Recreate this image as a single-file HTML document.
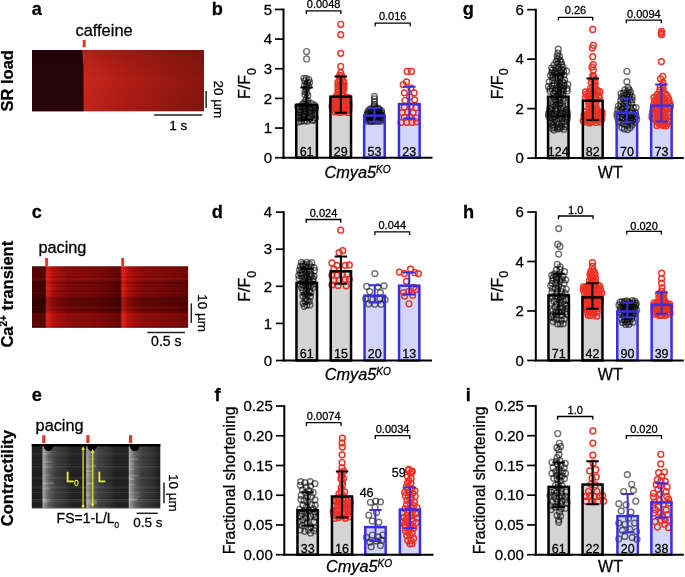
<!DOCTYPE html>
<html><head><meta charset="utf-8"><title>Figure</title>
<style>
html,body{margin:0;padding:0;background:#fff;}
body{width:685px;height:577px;overflow:hidden;}
svg{display:block;}
text{font-family:"Liberation Sans", sans-serif;fill:#000;stroke:#000;stroke-width:0.28px;}
</style></head><body>
<svg width="685" height="577" viewBox="0 0 685 577">
<rect width="685" height="577" fill="#fff"/>
<defs>
<linearGradient id="ga" x1="0" x2="1" y1="0" y2="0">
<stop offset="0" stop-color="#b01b15"/><stop offset="0.29" stop-color="#b01b15"/><stop offset="0.30" stop-color="#cb261b"/><stop offset="0.55" stop-color="#b01c15"/><stop offset="1" stop-color="#8a150f"/>
</linearGradient>
<linearGradient id="gaV" x1="0" x2="0" y1="0" y2="1">
<stop offset="0" stop-color="#000" stop-opacity="0.12"/><stop offset="0.5" stop-color="#000" stop-opacity="0"/><stop offset="1" stop-color="#300" stop-opacity="0.08"/>
</linearGradient>
<linearGradient id="gc" gradientUnits="userSpaceOnUse" x1="32" x2="188.1" y1="0" y2="0">
<stop offset="0" stop-color="#4c0405"/><stop offset="0.084" stop-color="#460304"/><stop offset="0.094" stop-color="#e22418"/>
<stop offset="0.107" stop-color="#da1e14"/><stop offset="0.1294" stop-color="#b6130f"/><stop offset="0.161" stop-color="#a10e0d"/><stop offset="0.225" stop-color="#840a0a"/>
<stop offset="0.379" stop-color="#790809"/><stop offset="0.5" stop-color="#680608"/><stop offset="0.566" stop-color="#540406"/><stop offset="0.577" stop-color="#e22418"/>
<stop offset="0.590" stop-color="#da1e14"/><stop offset="0.612" stop-color="#b6130f"/><stop offset="0.644" stop-color="#a10e0d"/><stop offset="0.708" stop-color="#840a0a"/>
<stop offset="0.863" stop-color="#750808"/><stop offset="1" stop-color="#660608"/>
</linearGradient>
<linearGradient id="gepulse" gradientUnits="objectBoundingBox" x1="0" x2="1" y1="0" y2="0">
<stop offset="0" stop-color="#fff" stop-opacity="0.3"/><stop offset="0.03" stop-color="#fff" stop-opacity="0.58"/><stop offset="0.1" stop-color="#fff" stop-opacity="0.46"/><stop offset="0.22" stop-color="#fff" stop-opacity="0.27"/><stop offset="0.45" stop-color="#fff" stop-opacity="0.13"/><stop offset="0.8" stop-color="#fff" stop-opacity="0.06"/><stop offset="1" stop-color="#fff" stop-opacity="0"/>
</linearGradient>
</defs>

<text x="31.8" y="14.6" font-size="18.2" font-weight="bold">a</text>
<text x="211.8" y="14.6" font-size="18.2" font-weight="bold">b</text>
<text x="462.8" y="14.6" font-size="18.2" font-weight="bold">g</text>
<text x="31.8" y="217.9" font-size="18.2" font-weight="bold">c</text>
<text x="211.8" y="217.9" font-size="18.2" font-weight="bold">d</text>
<text x="463" y="217.9" font-size="18.2" font-weight="bold">h</text>
<text x="31.8" y="400.6" font-size="18.2" font-weight="bold">e</text>
<text x="214.6" y="400.6" font-size="18.2" font-weight="bold">f</text>
<text x="465.8" y="400.6" font-size="18.2" font-weight="bold">i</text>
<text transform="translate(13.2 80.8) rotate(-90)" font-size="16.5" font-weight="bold" text-anchor="middle">SR load</text>
<text transform="translate(13.2 294.2) rotate(-90)" font-size="16.5" font-weight="bold" text-anchor="middle">Ca<tspan font-size="10" dy="-6.2">2+</tspan><tspan dy="6.2"> transient</tspan></text>
<text transform="translate(13.2 478) rotate(-90)" font-size="16.5" font-weight="bold" text-anchor="middle">Contractility</text>
<g>
<rect x="32" y="50" width="172" height="61.3" fill="url(#ga)"/>
<path d="M32 50H81.8C82.3 56 83.5 62 83.5 68V111.3H32Z" fill="#27040a"/>
<rect x="32" y="50" width="172" height="61.3" fill="url(#gaV)"/>
</g>
<rect x="82.7" y="40" width="3" height="7.2" fill="#ee3124"/>
<text x="75.5" y="36.1" font-size="16.4">caffeine</text>
<path d="M154.2 115H202.3" stroke="#222" stroke-width="1.7"/>
<text x="178.2" y="130" font-size="13.5" text-anchor="middle">1 s</text>
<path d="M206.1 90.9V107.9" stroke="#222" stroke-width="1.5"/>
<text transform="translate(213.5 99.4) rotate(90)" font-size="13.5" text-anchor="middle">20 µm</text>
<g>
<rect x="32" y="266.3" width="156.1" height="61.5" fill="url(#gc)"/>
<rect x="32" y="266.3" width="156.1" height="2" fill="#000" fill-opacity="0.12"/>
<rect x="32" y="268.5" width="156.1" height="13" fill="#ff3020" fill-opacity="0.08"/>
<rect x="32" y="282.2" width="156.1" height="1.3" fill="#000" fill-opacity="0.15"/>
<rect x="32" y="290" width="156.1" height="6" fill="#000" fill-opacity="0.06"/>
<rect x="32" y="296.5" width="156.1" height="15" fill="#000" fill-opacity="0.2"/>
<rect x="32" y="313" width="156.1" height="13" fill="#ff3020" fill-opacity="0.08"/>
<rect x="32" y="326" width="156.1" height="1.8" fill="#000" fill-opacity="0.12"/>
<rect x="32" y="266.3" width="156.1" height="1.1" fill="#ff3020" fill-opacity="0.08"/>
<rect x="32" y="267.4" width="156.1" height="1.35" fill="#ff3020" fill-opacity="0.08"/>
<rect x="32" y="268.75" width="156.1" height="0.62" fill="#ff3020" fill-opacity="0.05"/>
<rect x="32" y="269.38" width="156.1" height="1.12" fill="#000" fill-opacity="0.1"/>
<rect x="32" y="270.49" width="156.1" height="0.98" fill="#000" fill-opacity="0.03"/>
<rect x="32" y="271.47" width="156.1" height="1.06" fill="#000" fill-opacity="0"/>
<rect x="32" y="272.53" width="156.1" height="0.82" fill="#ff3020" fill-opacity="0.1"/>
<rect x="32" y="273.35" width="156.1" height="0.73" fill="#000" fill-opacity="0.09"/>
<rect x="32" y="274.08" width="156.1" height="1.09" fill="#000" fill-opacity="0.01"/>
<rect x="32" y="275.17" width="156.1" height="1.3" fill="#000" fill-opacity="0.02"/>
<rect x="32" y="276.47" width="156.1" height="1.39" fill="#000" fill-opacity="0.1"/>
<rect x="32" y="277.86" width="156.1" height="1.37" fill="#ff3020" fill-opacity="0.06"/>
<rect x="32" y="279.23" width="156.1" height="0.76" fill="#ff3020" fill-opacity="0.1"/>
<rect x="32" y="279.99" width="156.1" height="1.37" fill="#000" fill-opacity="0.1"/>
<rect x="32" y="281.36" width="156.1" height="0.89" fill="#000" fill-opacity="0.02"/>
<rect x="32" y="282.25" width="156.1" height="0.65" fill="#000" fill-opacity="0.03"/>
<rect x="32" y="282.9" width="156.1" height="0.6" fill="#000" fill-opacity="0.07"/>
<rect x="32" y="283.51" width="156.1" height="0.85" fill="#000" fill-opacity="0.09"/>
<rect x="32" y="284.36" width="156.1" height="0.85" fill="#ff3020" fill-opacity="0.05"/>
<rect x="32" y="285.21" width="156.1" height="0.65" fill="#000" fill-opacity="0.11"/>
<rect x="32" y="285.85" width="156.1" height="1.2" fill="#000" fill-opacity="0.09"/>
<rect x="32" y="287.05" width="156.1" height="1.23" fill="#000" fill-opacity="0.04"/>
<rect x="32" y="288.28" width="156.1" height="0.61" fill="#000" fill-opacity="0.01"/>
<rect x="32" y="288.89" width="156.1" height="1.36" fill="#ff3020" fill-opacity="0.02"/>
<rect x="32" y="290.26" width="156.1" height="1.34" fill="#000" fill-opacity="0.1"/>
<rect x="32" y="291.6" width="156.1" height="0.88" fill="#ff3020" fill-opacity="0.06"/>
<rect x="32" y="292.48" width="156.1" height="0.69" fill="#ff3020" fill-opacity="0.08"/>
<rect x="32" y="293.17" width="156.1" height="1.29" fill="#ff3020" fill-opacity="0"/>
<rect x="32" y="294.46" width="156.1" height="0.67" fill="#000" fill-opacity="0.04"/>
<rect x="32" y="295.13" width="156.1" height="1.33" fill="#ff3020" fill-opacity="0.04"/>
<rect x="32" y="296.46" width="156.1" height="1.04" fill="#000" fill-opacity="0.03"/>
<rect x="32" y="297.5" width="156.1" height="0.74" fill="#000" fill-opacity="0.01"/>
<rect x="32" y="298.24" width="156.1" height="1.15" fill="#000" fill-opacity="0.11"/>
<rect x="32" y="299.39" width="156.1" height="0.64" fill="#000" fill-opacity="0.11"/>
<rect x="32" y="300.03" width="156.1" height="0.92" fill="#000" fill-opacity="0.03"/>
<rect x="32" y="300.96" width="156.1" height="1.26" fill="#000" fill-opacity="0.05"/>
<rect x="32" y="302.22" width="156.1" height="0.64" fill="#000" fill-opacity="0.1"/>
<rect x="32" y="302.86" width="156.1" height="0.99" fill="#000" fill-opacity="0.09"/>
<rect x="32" y="303.86" width="156.1" height="1.19" fill="#000" fill-opacity="0.1"/>
<rect x="32" y="305.04" width="156.1" height="1.23" fill="#000" fill-opacity="0.01"/>
<rect x="32" y="306.27" width="156.1" height="0.72" fill="#000" fill-opacity="0.09"/>
<rect x="32" y="306.99" width="156.1" height="0.96" fill="#ff3020" fill-opacity="0.11"/>
<rect x="32" y="307.96" width="156.1" height="1.38" fill="#000" fill-opacity="0.05"/>
<rect x="32" y="309.34" width="156.1" height="1.18" fill="#000" fill-opacity="0.05"/>
<rect x="32" y="310.52" width="156.1" height="0.92" fill="#000" fill-opacity="0.02"/>
<rect x="32" y="311.44" width="156.1" height="1.39" fill="#000" fill-opacity="0.11"/>
<rect x="32" y="312.83" width="156.1" height="1" fill="#000" fill-opacity="0.04"/>
<rect x="32" y="313.83" width="156.1" height="0.82" fill="#ff3020" fill-opacity="0.09"/>
<rect x="32" y="314.65" width="156.1" height="0.89" fill="#ff3020" fill-opacity="0.09"/>
<rect x="32" y="315.54" width="156.1" height="1.16" fill="#ff3020" fill-opacity="0.07"/>
<rect x="32" y="316.7" width="156.1" height="0.89" fill="#000" fill-opacity="0.08"/>
<rect x="32" y="317.59" width="156.1" height="0.99" fill="#ff3020" fill-opacity="0.08"/>
<rect x="32" y="318.57" width="156.1" height="0.84" fill="#000" fill-opacity="0.1"/>
<rect x="32" y="319.41" width="156.1" height="1.06" fill="#000" fill-opacity="0"/>
<rect x="32" y="320.47" width="156.1" height="0.8" fill="#000" fill-opacity="0.07"/>
<rect x="32" y="321.27" width="156.1" height="1.25" fill="#ff3020" fill-opacity="0.07"/>
<rect x="32" y="322.53" width="156.1" height="0.88" fill="#ff3020" fill-opacity="0.07"/>
<rect x="32" y="323.41" width="156.1" height="1.26" fill="#ff3020" fill-opacity="0.04"/>
<rect x="32" y="324.67" width="156.1" height="1.3" fill="#ff3020" fill-opacity="0.08"/>
<rect x="32" y="325.97" width="156.1" height="1.37" fill="#000" fill-opacity="0.06"/>
<rect x="32" y="327.33" width="156.1" height="0.47" fill="#ff3020" fill-opacity="0.09"/>
</g>
<rect x="45.2" y="258" width="2.9" height="8.3" fill="#ee3124"/>
<rect x="121.2" y="258" width="2.9" height="8.3" fill="#ee3124"/>
<text x="38.4" y="252.6" font-size="16.3">pacing</text>
<path d="M147.3 332.4H185" stroke="#222" stroke-width="1.5"/>
<text x="166.3" y="345.5" font-size="14" text-anchor="middle">0.5 s</text>
<path d="M191.3 303.4V322.9" stroke="#222" stroke-width="1.5"/>
<text transform="translate(197.9 313.2) rotate(90)" font-size="13.5" text-anchor="middle">10 µm</text>
<g>
<rect x="31.8" y="444" width="128.5" height="64.4" fill="#222"/>
<rect x="31.8" y="444" width="10.4" height="64.4" fill="#000" fill-opacity="0.08"/>
<rect x="31.8" y="446" width="128.5" height="1.06" fill="#000" fill-opacity="0.03"/>
<rect x="31.8" y="447.06" width="128.5" height="1.47" fill="#fff" fill-opacity="0"/>
<rect x="31.8" y="448.53" width="128.5" height="1.5" fill="#fff" fill-opacity="0.01"/>
<rect x="31.8" y="450.03" width="128.5" height="1.22" fill="#000" fill-opacity="0"/>
<rect x="31.8" y="451.24" width="128.5" height="1.3" fill="#fff" fill-opacity="0.04"/>
<rect x="31.8" y="452.55" width="128.5" height="0.76" fill="#000" fill-opacity="0.02"/>
<rect x="31.8" y="453.31" width="128.5" height="1.11" fill="#fff" fill-opacity="0.08"/>
<rect x="31.8" y="454.41" width="128.5" height="1.37" fill="#fff" fill-opacity="0.03"/>
<rect x="31.8" y="455.79" width="128.5" height="0.7" fill="#fff" fill-opacity="0.03"/>
<rect x="31.8" y="456.49" width="128.5" height="1.33" fill="#000" fill-opacity="0.04"/>
<rect x="31.8" y="457.81" width="128.5" height="0.87" fill="#000" fill-opacity="0.02"/>
<rect x="31.8" y="458.68" width="128.5" height="1.41" fill="#fff" fill-opacity="0.02"/>
<rect x="31.8" y="460.09" width="128.5" height="1.48" fill="#000" fill-opacity="0"/>
<rect x="31.8" y="461.57" width="128.5" height="1.09" fill="#000" fill-opacity="0"/>
<rect x="31.8" y="462.66" width="128.5" height="1.51" fill="#fff" fill-opacity="0.01"/>
<rect x="31.8" y="464.17" width="128.5" height="0.72" fill="#fff" fill-opacity="0.05"/>
<rect x="31.8" y="464.89" width="128.5" height="0.8" fill="#000" fill-opacity="0"/>
<rect x="31.8" y="465.69" width="128.5" height="1.14" fill="#000" fill-opacity="0"/>
<rect x="31.8" y="466.83" width="128.5" height="1.1" fill="#000" fill-opacity="0.08"/>
<rect x="31.8" y="467.93" width="128.5" height="1" fill="#000" fill-opacity="0.06"/>
<rect x="31.8" y="468.93" width="128.5" height="1.18" fill="#fff" fill-opacity="0.02"/>
<rect x="31.8" y="470.11" width="128.5" height="1.56" fill="#fff" fill-opacity="0"/>
<rect x="31.8" y="471.66" width="128.5" height="1.21" fill="#000" fill-opacity="0.01"/>
<rect x="31.8" y="472.87" width="128.5" height="1.59" fill="#000" fill-opacity="0.09"/>
<rect x="31.8" y="474.47" width="128.5" height="1.31" fill="#000" fill-opacity="0.09"/>
<rect x="31.8" y="475.77" width="128.5" height="1.21" fill="#000" fill-opacity="0"/>
<rect x="31.8" y="476.98" width="128.5" height="1.27" fill="#fff" fill-opacity="0.05"/>
<rect x="31.8" y="478.26" width="128.5" height="0.69" fill="#fff" fill-opacity="0.03"/>
<rect x="31.8" y="478.94" width="128.5" height="1.18" fill="#000" fill-opacity="0.04"/>
<rect x="31.8" y="480.13" width="128.5" height="1.59" fill="#000" fill-opacity="0.05"/>
<rect x="31.8" y="481.71" width="128.5" height="1.4" fill="#000" fill-opacity="0.03"/>
<rect x="31.8" y="483.11" width="128.5" height="0.81" fill="#000" fill-opacity="0.04"/>
<rect x="31.8" y="483.93" width="128.5" height="0.69" fill="#000" fill-opacity="0.06"/>
<rect x="31.8" y="484.61" width="128.5" height="1.38" fill="#fff" fill-opacity="0"/>
<rect x="31.8" y="486" width="128.5" height="1.41" fill="#fff" fill-opacity="0.04"/>
<rect x="31.8" y="487.41" width="128.5" height="0.85" fill="#000" fill-opacity="0.07"/>
<rect x="31.8" y="488.25" width="128.5" height="0.83" fill="#000" fill-opacity="0.09"/>
<rect x="31.8" y="489.09" width="128.5" height="0.97" fill="#000" fill-opacity="0.08"/>
<rect x="31.8" y="490.06" width="128.5" height="1.27" fill="#fff" fill-opacity="0.02"/>
<rect x="31.8" y="491.33" width="128.5" height="0.86" fill="#fff" fill-opacity="0"/>
<rect x="31.8" y="492.18" width="128.5" height="0.77" fill="#fff" fill-opacity="0.09"/>
<rect x="31.8" y="492.96" width="128.5" height="1.21" fill="#000" fill-opacity="0"/>
<rect x="31.8" y="494.16" width="128.5" height="0.81" fill="#fff" fill-opacity="0.03"/>
<rect x="31.8" y="494.97" width="128.5" height="1.57" fill="#000" fill-opacity="0.03"/>
<rect x="31.8" y="496.54" width="128.5" height="1.16" fill="#000" fill-opacity="0.01"/>
<rect x="31.8" y="497.7" width="128.5" height="1.16" fill="#000" fill-opacity="0.06"/>
<rect x="31.8" y="498.86" width="128.5" height="1.05" fill="#fff" fill-opacity="0.06"/>
<rect x="31.8" y="499.91" width="128.5" height="0.98" fill="#000" fill-opacity="0.08"/>
<rect x="31.8" y="500.89" width="128.5" height="1.32" fill="#fff" fill-opacity="0.07"/>
<rect x="31.8" y="502.21" width="128.5" height="1.09" fill="#000" fill-opacity="0.01"/>
<rect x="31.8" y="503.3" width="128.5" height="1.13" fill="#fff" fill-opacity="0.02"/>
<rect x="31.8" y="504.43" width="128.5" height="0.68" fill="#000" fill-opacity="0.07"/>
<rect x="31.8" y="505.11" width="128.5" height="0.61" fill="#000" fill-opacity="0.02"/>
<rect x="31.8" y="505.73" width="128.5" height="1.16" fill="#000" fill-opacity="0.03"/>
<rect x="31.8" y="506.89" width="128.5" height="1.08" fill="#fff" fill-opacity="0.09"/>
<rect x="31.8" y="507.97" width="128.5" height="0.43" fill="#fff" fill-opacity="0"/>
<rect x="31.8" y="466.5" width="128.5" height="0.9" fill="#fff" fill-opacity="0.13"/>
<rect x="31.8" y="487.5" width="128.5" height="0.9" fill="#fff" fill-opacity="0.13"/>
<rect x="31.8" y="499.5" width="128.5" height="0.9" fill="#fff" fill-opacity="0.13"/>
<rect x="42.2" y="446" width="30" height="62.4" fill="url(#gepulse)"/>
<rect x="42.7" y="499.45" width="7.81" height="1.84" fill="#fff" fill-opacity="0.13"/>
<rect x="42.7" y="500.66" width="4.46" height="2.03" fill="#fff" fill-opacity="0.13"/>
<rect x="42.7" y="464.72" width="9.07" height="2.15" fill="#fff" fill-opacity="0.07"/>
<rect x="42.7" y="488.27" width="7.17" height="1.78" fill="#fff" fill-opacity="0.15"/>
<rect x="42.7" y="450.12" width="8.22" height="1.6" fill="#fff" fill-opacity="0.18"/>
<rect x="42.7" y="460.64" width="9.76" height="2.17" fill="#fff" fill-opacity="0.14"/>
<rect x="42.7" y="498.68" width="4.25" height="1.96" fill="#fff" fill-opacity="0.14"/>
<rect x="42.7" y="487.01" width="6.85" height="1.11" fill="#fff" fill-opacity="0.08"/>
<rect x="42.7" y="482.88" width="5.27" height="1.1" fill="#fff" fill-opacity="0.1"/>
<rect x="42.7" y="474.74" width="7.75" height="1.04" fill="#fff" fill-opacity="0.17"/>
<rect x="42.7" y="466.7" width="9.48" height="1.01" fill="#fff" fill-opacity="0.19"/>
<rect x="42.7" y="481.82" width="10.83" height="2.58" fill="#fff" fill-opacity="0.17"/>
<rect x="42.7" y="453.27" width="6.44" height="1.37" fill="#fff" fill-opacity="0.17"/>
<rect x="42.7" y="458.34" width="5.55" height="1.18" fill="#fff" fill-opacity="0.07"/>
<rect x="85.9" y="446" width="30" height="62.4" fill="url(#gepulse)"/>
<rect x="86.4" y="502.35" width="10.83" height="1.6" fill="#fff" fill-opacity="0.16"/>
<rect x="86.4" y="474.58" width="7.65" height="1.59" fill="#fff" fill-opacity="0.15"/>
<rect x="86.4" y="460.93" width="5.79" height="1.83" fill="#fff" fill-opacity="0.08"/>
<rect x="86.4" y="472.92" width="10.61" height="1.04" fill="#fff" fill-opacity="0.07"/>
<rect x="86.4" y="494.2" width="4.4" height="1.4" fill="#fff" fill-opacity="0.18"/>
<rect x="86.4" y="482.71" width="5.54" height="1.09" fill="#fff" fill-opacity="0.09"/>
<rect x="86.4" y="464.71" width="9.6" height="2.56" fill="#fff" fill-opacity="0.17"/>
<rect x="86.4" y="500.2" width="10.51" height="2.4" fill="#fff" fill-opacity="0.19"/>
<rect x="86.4" y="504.08" width="4.66" height="1.51" fill="#fff" fill-opacity="0.09"/>
<rect x="86.4" y="482.65" width="7.44" height="1.56" fill="#fff" fill-opacity="0.18"/>
<rect x="86.4" y="470.55" width="5.46" height="1.44" fill="#fff" fill-opacity="0.12"/>
<rect x="86.4" y="483.02" width="7.98" height="1.7" fill="#fff" fill-opacity="0.08"/>
<rect x="86.4" y="470.73" width="6.28" height="1.27" fill="#fff" fill-opacity="0.13"/>
<rect x="86.4" y="458.13" width="8.98" height="2.05" fill="#fff" fill-opacity="0.07"/>
<rect x="128.5" y="446" width="30" height="62.4" fill="url(#gepulse)"/>
<rect x="129.0" y="483.9" width="6.36" height="1.72" fill="#fff" fill-opacity="0.14"/>
<rect x="129.0" y="491.93" width="10.19" height="2.17" fill="#fff" fill-opacity="0.08"/>
<rect x="129.0" y="478.97" width="6.35" height="1.03" fill="#fff" fill-opacity="0.13"/>
<rect x="129.0" y="474.77" width="10.07" height="1.52" fill="#fff" fill-opacity="0.18"/>
<rect x="129.0" y="477.33" width="4.69" height="2.15" fill="#fff" fill-opacity="0.09"/>
<rect x="129.0" y="478.48" width="4.5" height="1.02" fill="#fff" fill-opacity="0.19"/>
<rect x="129.0" y="449.48" width="5.04" height="1.26" fill="#fff" fill-opacity="0.06"/>
<rect x="129.0" y="495.62" width="10.97" height="2.04" fill="#fff" fill-opacity="0.11"/>
<rect x="129.0" y="499.42" width="7.54" height="1.22" fill="#fff" fill-opacity="0.15"/>
<rect x="129.0" y="468.18" width="5.89" height="1.51" fill="#fff" fill-opacity="0.11"/>
<rect x="129.0" y="457.76" width="8.29" height="2.39" fill="#fff" fill-opacity="0.14"/>
<rect x="129.0" y="447.56" width="8.79" height="1.03" fill="#fff" fill-opacity="0.12"/>
<rect x="129.0" y="498.08" width="8.74" height="2.45" fill="#fff" fill-opacity="0.16"/>
<rect x="129.0" y="463.1" width="5.01" height="1.72" fill="#fff" fill-opacity="0.15"/>
<rect x="31.8" y="444" width="128.5" height="2.4" fill="#000"/>
<path d="M43.7 446 h9.4 c0 2.9 -2.1 5 -4.7 5 s-4.7 -2.1 -4.7 -5z" fill="#000"/>
<path d="M87.4 446 h9.4 c0 2.9 -2.1 5 -4.7 5 s-4.7 -2.1 -4.7 -5z" fill="#000"/>
<path d="M130 446 h9.4 c0 2.9 -2.1 5 -4.7 5 s-4.7 -2.1 -4.7 -5z" fill="#000"/>
</g>
<rect x="42.2" y="435.2" width="3.2" height="7.8" fill="#ee3124"/>
<rect x="86.3" y="435.2" width="3.2" height="7.8" fill="#ee3124"/>
<rect x="129" y="435.2" width="3.2" height="7.8" fill="#ee3124"/>
<text x="35.6" y="430.9" font-size="16.3">pacing</text>
<path d="M83.1 447.8V507.2M81.9 449.8L83.1 447.5L84.3 449.8M81.9 505.2L83.1 507.5L84.3 505.2" stroke="#e4e640" stroke-width="1.25" fill="none"/>
<path d="M92.7 450.6V505.7M91.5 452.6L92.7 450.3L93.9 452.6M91.5 503.7L92.7 506L93.9 503.7" stroke="#e4e640" stroke-width="1.25" fill="none"/>
<text x="65.8" y="482" font-size="14.5" style="fill:#e4e640;stroke:#e4e640">L<tspan font-size="8.5" dy="3.8">0</tspan></text>
<text x="97.4" y="482" font-size="14.5" style="fill:#e4e640;stroke:#e4e640">L</text>
<text x="56.6" y="523.4" font-size="14">FS=1-L/L<tspan font-size="8.2" dy="4.2">0</tspan></text>
<path d="M136.6 513.3H157.8" stroke="#222" stroke-width="1.5"/>
<text x="147.8" y="526.6" font-size="13.5" text-anchor="middle">0.5 s</text>
<path d="M164 482.6V503.3" stroke="#222" stroke-width="1.5"/>
<text transform="translate(169.3 492.8) rotate(90)" font-size="13.5" text-anchor="middle">10 µm</text>
<rect x="295.9" y="103.74" width="21.4" height="53.96" fill="#d4d4d4"/>
<rect x="330.1" y="95.43" width="21.3" height="62.27" fill="#d4d4d4"/>
<rect x="363.8" y="114.41" width="21.3" height="43.29" fill="#d3d6f9"/>
<rect x="398.6" y="102.85" width="21.4" height="54.85" fill="#d3d6f9"/>
<g fill="none" stroke="#000" stroke-width="1.45" stroke-opacity="0.55">
<circle cx="311.3" cy="116.48" r="2.9"/>
<circle cx="305.7" cy="111.15" r="2.9"/>
<circle cx="307.3" cy="121.07" r="2.9"/>
<circle cx="304.84" cy="80.93" r="2.9"/>
<circle cx="302.73" cy="103.77" r="2.9"/>
<circle cx="312.61" cy="109.61" r="2.9"/>
<circle cx="306.92" cy="92.8" r="2.9"/>
<circle cx="311.53" cy="103.59" r="2.9"/>
<circle cx="301.2" cy="121.18" r="2.9"/>
<circle cx="308.55" cy="86.35" r="2.9"/>
<circle cx="299.21" cy="112.05" r="2.9"/>
<circle cx="297.72" cy="106.65" r="2.9"/>
<circle cx="306.07" cy="99.35" r="2.9"/>
<circle cx="299.03" cy="117.6" r="2.9"/>
<circle cx="304.59" cy="117.16" r="2.9"/>
<circle cx="304.42" cy="85.57" r="2.9"/>
<circle cx="314.83" cy="113.74" r="2.9"/>
<circle cx="302.19" cy="108.59" r="2.9"/>
<circle cx="309.34" cy="112.81" r="2.9"/>
<circle cx="312.23" cy="120.14" r="2.9"/>
<circle cx="305.57" cy="106.64" r="2.9"/>
<circle cx="315.39" cy="117.79" r="2.9"/>
<circle cx="307.89" cy="103.38" r="2.9"/>
<circle cx="309.07" cy="109.5" r="2.9"/>
<circle cx="307.6" cy="82.56" r="2.9"/>
<circle cx="301.31" cy="115.29" r="2.9"/>
<circle cx="308.74" cy="79.68" r="2.9"/>
<circle cx="306.05" cy="89.36" r="2.9"/>
<circle cx="304.37" cy="120.91" r="2.9"/>
<circle cx="304.99" cy="94.85" r="2.9"/>
<circle cx="315.46" cy="107.09" r="2.9"/>
<circle cx="301.07" cy="106.06" r="2.9"/>
<circle cx="298.4" cy="114.97" r="2.9"/>
<circle cx="298.58" cy="121.98" r="2.9"/>
<circle cx="304.67" cy="113.86" r="2.9"/>
<circle cx="307.61" cy="117.14" r="2.9"/>
<circle cx="307.8" cy="95.51" r="2.9"/>
<circle cx="311.99" cy="107.09" r="2.9"/>
<circle cx="303.89" cy="78.27" r="2.9"/>
<circle cx="305.51" cy="104.23" r="2.9"/>
<circle cx="315.23" cy="110.32" r="2.9"/>
<circle cx="298.87" cy="109.46" r="2.9"/>
<circle cx="308.07" cy="100.78" r="2.9"/>
<circle cx="305.02" cy="108.93" r="2.9"/>
<circle cx="308.96" cy="118.99" r="2.9"/>
<circle cx="306.1" cy="78.43" r="2.9"/>
<circle cx="304.54" cy="102.12" r="2.9"/>
<circle cx="301.23" cy="111.95" r="2.9"/>
<circle cx="306.68" cy="84.72" r="2.9"/>
<circle cx="303.41" cy="115.49" r="2.9"/>
<circle cx="303.53" cy="106.04" r="2.9"/>
<circle cx="310.88" cy="110.91" r="2.9"/>
<circle cx="314.32" cy="120.05" r="2.9"/>
<circle cx="311.86" cy="113.03" r="2.9"/>
<circle cx="306.57" cy="87.36" r="2.9"/>
<circle cx="301.67" cy="118.71" r="2.9"/>
<circle cx="314.37" cy="105.05" r="2.9"/>
<circle cx="309.68" cy="82.34" r="2.9"/>
<circle cx="304.89" cy="91.76" r="2.9"/>
<circle cx="306.6" cy="58.97" r="2.9"/>
<circle cx="306.6" cy="51.55" r="2.9"/>
</g>
<g fill="none" stroke="#ee3124" stroke-width="1.45" stroke-opacity="1">
<circle cx="346.59" cy="110.49" r="2.9"/>
<circle cx="342.65" cy="100.94" r="2.9"/>
<circle cx="340.29" cy="90.57" r="2.9"/>
<circle cx="348.38" cy="97.7" r="2.9"/>
<circle cx="336.64" cy="95.75" r="2.9"/>
<circle cx="337.93" cy="111.59" r="2.9"/>
<circle cx="341.72" cy="78.18" r="2.9"/>
<circle cx="333.74" cy="104.03" r="2.9"/>
<circle cx="340.86" cy="83.95" r="2.9"/>
<circle cx="348.9" cy="103.82" r="2.9"/>
<circle cx="343.67" cy="96.1" r="2.9"/>
<circle cx="342.41" cy="106.46" r="2.9"/>
<circle cx="332.39" cy="109.05" r="2.9"/>
<circle cx="338.05" cy="105.71" r="2.9"/>
<circle cx="343.89" cy="88.81" r="2.9"/>
<circle cx="336.76" cy="101.84" r="2.9"/>
<circle cx="332.76" cy="99.64" r="2.9"/>
<circle cx="341.62" cy="109.88" r="2.9"/>
<circle cx="339.66" cy="97" r="2.9"/>
<circle cx="345.67" cy="106.61" r="2.9"/>
<circle cx="343.66" cy="83" r="2.9"/>
<circle cx="346.02" cy="100.55" r="2.9"/>
<circle cx="342.86" cy="93.05" r="2.9"/>
<circle cx="335.02" cy="111.99" r="2.9"/>
<circle cx="339.72" cy="75.41" r="2.9"/>
<circle cx="340.21" cy="81.04" r="2.9"/>
<circle cx="340.04" cy="103.34" r="2.9"/>
<circle cx="337.97" cy="88.65" r="2.9"/>
<circle cx="335.71" cy="107.6" r="2.9"/>
<circle cx="348.98" cy="106.74" r="2.9"/>
<circle cx="337.56" cy="98.78" r="2.9"/>
<circle cx="343.87" cy="111.74" r="2.9"/>
<circle cx="338.97" cy="94.37" r="2.9"/>
<circle cx="344.8" cy="103.54" r="2.9"/>
<circle cx="339.09" cy="108.26" r="2.9"/>
<circle cx="341.25" cy="87.59" r="2.9"/>
<circle cx="335.02" cy="97.81" r="2.9"/>
<circle cx="332.05" cy="106.17" r="2.9"/>
<circle cx="337.9" cy="85.05" r="2.9"/>
<circle cx="340.28" cy="112.49" r="2.9"/>
<circle cx="334.21" cy="101.85" r="2.9"/>
<circle cx="341.22" cy="98.53" r="2.9"/>
<circle cx="337.02" cy="109.6" r="2.9"/>
<circle cx="343.92" cy="108.73" r="2.9"/>
<circle cx="343.97" cy="85.14" r="2.9"/>
<circle cx="339.61" cy="79.09" r="2.9"/>
<circle cx="341.79" cy="76.04" r="2.9"/>
<circle cx="343.23" cy="80.98" r="2.9"/>
<circle cx="346.03" cy="98.25" r="2.9"/>
<circle cx="342.63" cy="90.66" r="2.9"/>
<circle cx="348.76" cy="100.75" r="2.9"/>
<circle cx="338" cy="82.2" r="2.9"/>
<circle cx="337.91" cy="91.83" r="2.9"/>
<circle cx="342.18" cy="104.25" r="2.9"/>
<circle cx="341.4" cy="94.51" r="2.9"/>
<circle cx="347" cy="104.59" r="2.9"/>
<circle cx="348.79" cy="109.79" r="2.9"/>
<circle cx="338.63" cy="100.91" r="2.9"/>
<circle cx="340.22" cy="105.85" r="2.9"/>
<circle cx="341.41" cy="108.11" r="2.9"/>
<circle cx="340.56" cy="100.84" r="2.9"/>
<circle cx="335.85" cy="100.12" r="2.9"/>
<circle cx="343.2" cy="87.16" r="2.9"/>
<circle cx="347.32" cy="102.54" r="2.9"/>
<circle cx="347.54" cy="112.4" r="2.9"/>
<circle cx="344.53" cy="99.35" r="2.9"/>
<circle cx="335.49" cy="104.83" r="2.9"/>
<circle cx="339.07" cy="110.14" r="2.9"/>
<circle cx="347.38" cy="108.24" r="2.9"/>
<circle cx="332.47" cy="102.63" r="2.9"/>
<circle cx="339.42" cy="85.94" r="2.9"/>
<circle cx="342.22" cy="85.05" r="2.9"/>
<circle cx="340.75" cy="72.9" r="2.9"/>
<circle cx="340.75" cy="66.38" r="2.9"/>
<circle cx="340.75" cy="53.33" r="2.9"/>
<circle cx="340.75" cy="34.65" r="2.9"/>
<circle cx="340.75" cy="24.28" r="2.9"/>
</g>
<g fill="none" stroke="#000" stroke-width="1.45" stroke-opacity="0.55">
<circle cx="372.4" cy="117.79" r="2.9"/>
<circle cx="367.59" cy="112.04" r="2.9"/>
<circle cx="375.68" cy="108.38" r="2.9"/>
<circle cx="380.26" cy="119.16" r="2.9"/>
<circle cx="381.6" cy="110.94" r="2.9"/>
<circle cx="366.92" cy="117.33" r="2.9"/>
<circle cx="374.46" cy="113.21" r="2.9"/>
<circle cx="370.55" cy="108.85" r="2.9"/>
<circle cx="378.96" cy="114.21" r="2.9"/>
<circle cx="375.16" cy="121.05" r="2.9"/>
<circle cx="370.69" cy="114.04" r="2.9"/>
<circle cx="367.54" cy="121.34" r="2.9"/>
<circle cx="381.9" cy="115.12" r="2.9"/>
<circle cx="370.65" cy="121.5" r="2.9"/>
<circle cx="378.3" cy="110.34" r="2.9"/>
<circle cx="377.24" cy="118.75" r="2.9"/>
<circle cx="374.06" cy="106.14" r="2.9"/>
<circle cx="369.76" cy="119.1" r="2.9"/>
<circle cx="375.17" cy="116.75" r="2.9"/>
<circle cx="378.08" cy="121.17" r="2.9"/>
<circle cx="374.75" cy="110.62" r="2.9"/>
<circle cx="371.04" cy="111.67" r="2.9"/>
<circle cx="377.89" cy="108" r="2.9"/>
<circle cx="377.61" cy="116.35" r="2.9"/>
<circle cx="368.75" cy="110.18" r="2.9"/>
<circle cx="366.93" cy="114.71" r="2.9"/>
<circle cx="373.07" cy="108.94" r="2.9"/>
<circle cx="369.63" cy="116.15" r="2.9"/>
<circle cx="381.99" cy="117.29" r="2.9"/>
<circle cx="376.07" cy="114.66" r="2.9"/>
<circle cx="371.95" cy="115.8" r="2.9"/>
<circle cx="366.75" cy="119.61" r="2.9"/>
<circle cx="381.5" cy="112.79" r="2.9"/>
<circle cx="376.82" cy="111.98" r="2.9"/>
<circle cx="380.7" cy="121.23" r="2.9"/>
<circle cx="373.56" cy="119.25" r="2.9"/>
<circle cx="371.57" cy="119.79" r="2.9"/>
<circle cx="369.29" cy="112.97" r="2.9"/>
<circle cx="372.92" cy="121.29" r="2.9"/>
<circle cx="382.06" cy="119.72" r="2.9"/>
<circle cx="380.4" cy="114.73" r="2.9"/>
<circle cx="380.26" cy="117.4" r="2.9"/>
<circle cx="379.14" cy="109.17" r="2.9"/>
<circle cx="368.16" cy="118.81" r="2.9"/>
<circle cx="379.49" cy="116.02" r="2.9"/>
<circle cx="368.22" cy="113.9" r="2.9"/>
<circle cx="379.94" cy="112.06" r="2.9"/>
<circle cx="376.79" cy="109.88" r="2.9"/>
<circle cx="369.73" cy="117.68" r="2.9"/>
<circle cx="374.45" cy="104.33" r="2.9"/>
<circle cx="374.45" cy="101.66" r="2.9"/>
<circle cx="374.45" cy="98.99" r="2.9"/>
<circle cx="374.45" cy="96.32" r="2.9"/>
</g>
<g fill="none" stroke="#ee3124" stroke-width="1.45" stroke-opacity="1">
<circle cx="407.18" cy="71.39" r="2.9"/>
<circle cx="411.56" cy="71.39" r="2.9"/>
<circle cx="406.52" cy="81.9" r="2.9"/>
<circle cx="403.24" cy="84.52" r="2.9"/>
<circle cx="410.9" cy="88.03" r="2.9"/>
<circle cx="404.33" cy="92.84" r="2.9"/>
<circle cx="414.19" cy="92.84" r="2.9"/>
<circle cx="409.81" cy="96.79" r="2.9"/>
<circle cx="404.99" cy="100.51" r="2.9"/>
<circle cx="414.63" cy="99.85" r="2.9"/>
<circle cx="404.33" cy="107.08" r="2.9"/>
<circle cx="410.9" cy="106.42" r="2.9"/>
<circle cx="415.94" cy="107.73" r="2.9"/>
<circle cx="402.14" cy="112.55" r="2.9"/>
<circle cx="407.62" cy="112.11" r="2.9"/>
<circle cx="413.09" cy="112.55" r="2.9"/>
<circle cx="404.33" cy="117.37" r="2.9"/>
<circle cx="416.38" cy="118.02" r="2.9"/>
<circle cx="401.05" cy="122.4" r="2.9"/>
<circle cx="406.74" cy="122.4" r="2.9"/>
<circle cx="412" cy="122.4" r="2.9"/>
<circle cx="416.38" cy="121.75" r="2.9"/>
<circle cx="409.81" cy="116.93" r="2.9"/>
</g>
<path d="M306.6 87.43V120.04M300.4 87.43H312.8M300.4 120.04H312.8" stroke="#000" stroke-width="2" fill="none"/>
<rect x="296.25" y="104.99" width="20.7" height="52.71" fill="none" stroke="#000" stroke-width="2.5"/>
<path d="M340.75 76.46V112.63M334.55 76.46H346.95M334.55 112.63H346.95" stroke="#000" stroke-width="2" fill="none"/>
<rect x="330.45" y="96.68" width="20.6" height="61.02" fill="none" stroke="#000" stroke-width="2.5"/>
<path d="M374.45 107.89V121.82M368.25 107.89H380.65M368.25 121.82H380.65" stroke="#3a2fe0" stroke-width="2" fill="none"/>
<rect x="364.15" y="115.66" width="20.6" height="42.04" fill="none" stroke="#3a2fe0" stroke-width="2.5"/>
<path d="M409.3 86.84V118.56M403.1 86.84H415.5M403.1 118.56H415.5" stroke="#3a2fe0" stroke-width="2" fill="none"/>
<rect x="398.95" y="104.1" width="20.7" height="53.6" fill="none" stroke="#3a2fe0" stroke-width="2.5"/>
<text x="306.6" y="155.6" font-size="12.5" text-anchor="middle">61</text>
<text x="340.75" y="155.6" font-size="12.5" text-anchor="middle">29</text>
<text x="374.45" y="155.6" font-size="12.5" text-anchor="middle">53</text>
<text x="409.3" y="155.6" font-size="12.5" text-anchor="middle">23</text>
<path d="M283.5 8.6V158.7" stroke="#000" stroke-width="2"/>
<path d="M282.5 157.7H432.5" stroke="#000" stroke-width="2"/>
<path d="M275 157.7H283.5" stroke="#000" stroke-width="1.7"/>
<text x="272" y="162.9" font-size="15" text-anchor="end">0</text>
<path d="M275 128.05H283.5" stroke="#000" stroke-width="1.7"/>
<text x="272" y="133.25" font-size="15" text-anchor="end">1</text>
<path d="M275 98.4H283.5" stroke="#000" stroke-width="1.7"/>
<text x="272" y="103.6" font-size="15" text-anchor="end">2</text>
<path d="M275 68.75H283.5" stroke="#000" stroke-width="1.7"/>
<text x="272" y="73.95" font-size="15" text-anchor="end">3</text>
<path d="M275 39.1H283.5" stroke="#000" stroke-width="1.7"/>
<text x="272" y="44.3" font-size="15" text-anchor="end">4</text>
<path d="M275 9.45H283.5" stroke="#000" stroke-width="1.7"/>
<text x="272" y="14.65" font-size="15" text-anchor="end">5</text>
<path d="M306.3 14.1V10.9H340.9V14.1" stroke="#000" stroke-width="1.3" fill="none"/>
<text x="323.6" y="7.7" font-size="11" text-anchor="middle">0.0048</text>
<path d="M375.2 26.3V23.1H410.2V26.3" stroke="#000" stroke-width="1.3" fill="none"/>
<text x="392.7" y="19.9" font-size="11" text-anchor="middle">0.016</text>
<text transform="translate(250.2 83.57) rotate(-90)" font-size="16" text-anchor="middle">F/F<tspan font-size="12.5" dy="5.5">0</tspan></text>
<text x="324.5" y="178.3" font-size="16.3"><tspan font-style="italic">Cmya5</tspan><tspan font-style="italic" font-size="10.2" dy="-5">KO</tspan></text>
<rect x="547.7" y="95.51" width="21.2" height="62.59" fill="#d4d4d4"/>
<rect x="582.5" y="99.47" width="20.5" height="58.63" fill="#d4d4d4"/>
<rect x="616.3" y="111.59" width="21.2" height="46.51" fill="#d3d6f9"/>
<rect x="650.8" y="104.41" width="21.2" height="53.69" fill="#d3d6f9"/>
<g fill="none" stroke="#000" stroke-width="1.45" stroke-opacity="0.55">
<circle cx="562.88" cy="94.67" r="2.9"/>
<circle cx="560.87" cy="115.66" r="2.9"/>
<circle cx="555.62" cy="67.95" r="2.9"/>
<circle cx="561.59" cy="123.03" r="2.9"/>
<circle cx="549.25" cy="81.87" r="2.9"/>
<circle cx="552.17" cy="88.71" r="2.9"/>
<circle cx="558.3" cy="89.43" r="2.9"/>
<circle cx="555.46" cy="78.19" r="2.9"/>
<circle cx="556.02" cy="105.42" r="2.9"/>
<circle cx="550.4" cy="120.89" r="2.9"/>
<circle cx="567.62" cy="113.45" r="2.9"/>
<circle cx="563" cy="67.14" r="2.9"/>
<circle cx="564.56" cy="79.81" r="2.9"/>
<circle cx="559.42" cy="56.39" r="2.9"/>
<circle cx="553.32" cy="97.09" r="2.9"/>
<circle cx="557.59" cy="128.84" r="2.9"/>
<circle cx="549.33" cy="111.52" r="2.9"/>
<circle cx="561.48" cy="73.4" r="2.9"/>
<circle cx="562.87" cy="105.37" r="2.9"/>
<circle cx="567.26" cy="88.52" r="2.9"/>
<circle cx="551.81" cy="72.56" r="2.9"/>
<circle cx="556.11" cy="61.51" r="2.9"/>
<circle cx="558.99" cy="99.75" r="2.9"/>
<circle cx="554.57" cy="116.61" r="2.9"/>
<circle cx="566.61" cy="71.19" r="2.9"/>
<circle cx="554.43" cy="83.28" r="2.9"/>
<circle cx="556.23" cy="111.39" r="2.9"/>
<circle cx="566.97" cy="119.57" r="2.9"/>
<circle cx="559.74" cy="83.34" r="2.9"/>
<circle cx="552.81" cy="125.18" r="2.9"/>
<circle cx="563.91" cy="129.32" r="2.9"/>
<circle cx="556.92" cy="121.65" r="2.9"/>
<circle cx="561.21" cy="62.11" r="2.9"/>
<circle cx="567.82" cy="84.36" r="2.9"/>
<circle cx="562.86" cy="111.82" r="2.9"/>
<circle cx="564.1" cy="85.56" r="2.9"/>
<circle cx="558.27" cy="93.89" r="2.9"/>
<circle cx="553.69" cy="93" r="2.9"/>
<circle cx="557.88" cy="53" r="2.9"/>
<circle cx="560.26" cy="77.69" r="2.9"/>
<circle cx="556.89" cy="74.33" r="2.9"/>
<circle cx="556.06" cy="101.91" r="2.9"/>
<circle cx="564.8" cy="124.31" r="2.9"/>
<circle cx="559.68" cy="70.36" r="2.9"/>
<circle cx="563.42" cy="90.91" r="2.9"/>
<circle cx="552.06" cy="107.66" r="2.9"/>
<circle cx="551.73" cy="114.42" r="2.9"/>
<circle cx="558.46" cy="118.41" r="2.9"/>
<circle cx="548.42" cy="86.48" r="2.9"/>
<circle cx="561.03" cy="108.56" r="2.9"/>
<circle cx="560.15" cy="103.13" r="2.9"/>
<circle cx="563.43" cy="101.21" r="2.9"/>
<circle cx="553.84" cy="130.05" r="2.9"/>
<circle cx="548.7" cy="116.31" r="2.9"/>
<circle cx="566.62" cy="109.62" r="2.9"/>
<circle cx="561.48" cy="126.73" r="2.9"/>
<circle cx="552.92" cy="101.37" r="2.9"/>
<circle cx="560.39" cy="87.24" r="2.9"/>
<circle cx="557.39" cy="85.07" r="2.9"/>
<circle cx="550.03" cy="91.3" r="2.9"/>
<circle cx="564.34" cy="114.44" r="2.9"/>
<circle cx="558.62" cy="67.37" r="2.9"/>
<circle cx="553.31" cy="122.11" r="2.9"/>
<circle cx="556.18" cy="96.48" r="2.9"/>
<circle cx="563.49" cy="70.86" r="2.9"/>
<circle cx="551.62" cy="68.1" r="2.9"/>
<circle cx="551.96" cy="85.57" r="2.9"/>
<circle cx="558.09" cy="124.31" r="2.9"/>
<circle cx="552.54" cy="77.25" r="2.9"/>
<circle cx="567.35" cy="116.63" r="2.9"/>
<circle cx="557.33" cy="114.1" r="2.9"/>
<circle cx="559.98" cy="112.92" r="2.9"/>
<circle cx="557.6" cy="81.44" r="2.9"/>
<circle cx="563.99" cy="75.03" r="2.9"/>
<circle cx="555.52" cy="90.96" r="2.9"/>
<circle cx="555.81" cy="71.1" r="2.9"/>
<circle cx="560.66" cy="97.28" r="2.9"/>
<circle cx="561.97" cy="118.49" r="2.9"/>
<circle cx="550.47" cy="75.36" r="2.9"/>
<circle cx="554.61" cy="119.72" r="2.9"/>
<circle cx="557.84" cy="63.62" r="2.9"/>
<circle cx="552.52" cy="80.3" r="2.9"/>
<circle cx="557.56" cy="59.06" r="2.9"/>
<circle cx="553.99" cy="64.91" r="2.9"/>
<circle cx="554.57" cy="127.34" r="2.9"/>
<circle cx="562.34" cy="81.78" r="2.9"/>
<circle cx="554.39" cy="113.61" r="2.9"/>
<circle cx="558.84" cy="105.28" r="2.9"/>
<circle cx="563.37" cy="98.13" r="2.9"/>
<circle cx="564.18" cy="121.71" r="2.9"/>
<circle cx="561.54" cy="64.68" r="2.9"/>
<circle cx="561" cy="90.77" r="2.9"/>
<circle cx="551.24" cy="118.05" r="2.9"/>
<circle cx="560.07" cy="128.62" r="2.9"/>
<circle cx="567.19" cy="90.95" r="2.9"/>
<circle cx="552.01" cy="110.61" r="2.9"/>
<circle cx="560.49" cy="75.4" r="2.9"/>
<circle cx="555.58" cy="109.21" r="2.9"/>
<circle cx="554.81" cy="99.52" r="2.9"/>
<circle cx="564.69" cy="117.57" r="2.9"/>
<circle cx="554.36" cy="72.97" r="2.9"/>
<circle cx="558.02" cy="77.48" r="2.9"/>
<circle cx="565.17" cy="126.66" r="2.9"/>
<circle cx="552.63" cy="70.04" r="2.9"/>
<circle cx="560.02" cy="60.15" r="2.9"/>
<circle cx="556.02" cy="88.67" r="2.9"/>
<circle cx="552.43" cy="128.16" r="2.9"/>
<circle cx="563.11" cy="88.67" r="2.9"/>
<circle cx="564.14" cy="83.23" r="2.9"/>
<circle cx="557.2" cy="56.09" r="2.9"/>
<circle cx="548.51" cy="113.88" r="2.9"/>
<circle cx="552.94" cy="104.44" r="2.9"/>
<circle cx="561.8" cy="84.77" r="2.9"/>
<circle cx="549.97" cy="88.99" r="2.9"/>
<circle cx="566" cy="111.83" r="2.9"/>
<circle cx="558.34" cy="126.77" r="2.9"/>
<circle cx="561.09" cy="93.08" r="2.9"/>
<circle cx="563.55" cy="108.16" r="2.9"/>
<circle cx="553.18" cy="74.9" r="2.9"/>
<circle cx="549.86" cy="108.38" r="2.9"/>
<circle cx="561.94" cy="69.32" r="2.9"/>
<circle cx="558.12" cy="91.87" r="2.9"/>
<circle cx="551.32" cy="122.86" r="2.9"/>
<circle cx="558.3" cy="49.24" r="2.9"/>
</g>
<g fill="none" stroke="#ee3124" stroke-width="1.45" stroke-opacity="1">
<circle cx="585.51" cy="91.97" r="2.9"/>
<circle cx="595.17" cy="105.54" r="2.9"/>
<circle cx="593.61" cy="90.85" r="2.9"/>
<circle cx="584.01" cy="115.42" r="2.9"/>
<circle cx="600.5" cy="122.1" r="2.9"/>
<circle cx="596.88" cy="99.3" r="2.9"/>
<circle cx="592.44" cy="78.94" r="2.9"/>
<circle cx="595.15" cy="116.69" r="2.9"/>
<circle cx="589.09" cy="100.79" r="2.9"/>
<circle cx="591.41" cy="121.66" r="2.9"/>
<circle cx="601.95" cy="111.75" r="2.9"/>
<circle cx="589.62" cy="111.54" r="2.9"/>
<circle cx="599.74" cy="91.65" r="2.9"/>
<circle cx="592.48" cy="95.99" r="2.9"/>
<circle cx="585.29" cy="121.98" r="2.9"/>
<circle cx="594.59" cy="110.49" r="2.9"/>
<circle cx="595.84" cy="122.48" r="2.9"/>
<circle cx="592.49" cy="86.05" r="2.9"/>
<circle cx="589.07" cy="116.92" r="2.9"/>
<circle cx="587.53" cy="96.1" r="2.9"/>
<circle cx="600.24" cy="116.9" r="2.9"/>
<circle cx="590.64" cy="106.22" r="2.9"/>
<circle cx="598.93" cy="95.71" r="2.9"/>
<circle cx="591.17" cy="82.37" r="2.9"/>
<circle cx="589.19" cy="91.68" r="2.9"/>
<circle cx="591.91" cy="103.33" r="2.9"/>
<circle cx="594.01" cy="113.67" r="2.9"/>
<circle cx="598.08" cy="112.66" r="2.9"/>
<circle cx="587.37" cy="114.14" r="2.9"/>
<circle cx="595.77" cy="93.92" r="2.9"/>
<circle cx="595.89" cy="102.65" r="2.9"/>
<circle cx="594.85" cy="80.94" r="2.9"/>
<circle cx="585.12" cy="111.83" r="2.9"/>
<circle cx="596.34" cy="119.57" r="2.9"/>
<circle cx="591.63" cy="99.29" r="2.9"/>
<circle cx="584.88" cy="118.38" r="2.9"/>
<circle cx="593.19" cy="107.27" r="2.9"/>
<circle cx="596.42" cy="108.15" r="2.9"/>
<circle cx="593.29" cy="93.38" r="2.9"/>
<circle cx="601.54" cy="119.26" r="2.9"/>
<circle cx="594.92" cy="85.12" r="2.9"/>
<circle cx="590.56" cy="114.11" r="2.9"/>
<circle cx="598.04" cy="115.31" r="2.9"/>
<circle cx="589.01" cy="108.4" r="2.9"/>
<circle cx="597.07" cy="90.12" r="2.9"/>
<circle cx="593.78" cy="76.64" r="2.9"/>
<circle cx="588.56" cy="120.67" r="2.9"/>
<circle cx="590.37" cy="88.53" r="2.9"/>
<circle cx="594.29" cy="99.22" r="2.9"/>
<circle cx="591.85" cy="109.71" r="2.9"/>
<circle cx="589.41" cy="97.96" r="2.9"/>
<circle cx="594.46" cy="87.75" r="2.9"/>
<circle cx="591.13" cy="118.83" r="2.9"/>
<circle cx="588.9" cy="103.63" r="2.9"/>
<circle cx="589.38" cy="94.58" r="2.9"/>
<circle cx="597.12" cy="110.45" r="2.9"/>
<circle cx="599.35" cy="98.07" r="2.9"/>
<circle cx="598.53" cy="120.09" r="2.9"/>
<circle cx="587.06" cy="118.41" r="2.9"/>
<circle cx="589.58" cy="122.93" r="2.9"/>
<circle cx="585.38" cy="97.53" r="2.9"/>
<circle cx="591.72" cy="116.37" r="2.9"/>
<circle cx="593.71" cy="120.39" r="2.9"/>
<circle cx="591.16" cy="91" r="2.9"/>
<circle cx="586.17" cy="94.34" r="2.9"/>
<circle cx="583.12" cy="120.87" r="2.9"/>
<circle cx="597.6" cy="92.41" r="2.9"/>
<circle cx="594.38" cy="97.1" r="2.9"/>
<circle cx="592.3" cy="112.62" r="2.9"/>
<circle cx="600.31" cy="112.73" r="2.9"/>
<circle cx="592.42" cy="101.25" r="2.9"/>
<circle cx="585.91" cy="120.07" r="2.9"/>
<circle cx="602.12" cy="115.16" r="2.9"/>
<circle cx="595.09" cy="83.05" r="2.9"/>
<circle cx="592.75" cy="29.45" r="2.9"/>
<circle cx="593.35" cy="45.29" r="2.9"/>
<circle cx="592.35" cy="48.01" r="2.9"/>
<circle cx="592.75" cy="56.67" r="2.9"/>
<circle cx="593.25" cy="64.58" r="2.9"/>
<circle cx="591.95" cy="67.06" r="2.9"/>
<circle cx="593.25" cy="70.03" r="2.9"/>
<circle cx="592.75" cy="75.96" r="2.9"/>
</g>
<g fill="none" stroke="#000" stroke-width="1.45" stroke-opacity="0.55">
<circle cx="630.54" cy="118.44" r="2.9"/>
<circle cx="623.71" cy="92.88" r="2.9"/>
<circle cx="623.81" cy="124.01" r="2.9"/>
<circle cx="624.06" cy="103.31" r="2.9"/>
<circle cx="623.21" cy="113.88" r="2.9"/>
<circle cx="629.98" cy="99.74" r="2.9"/>
<circle cx="618.45" cy="121.23" r="2.9"/>
<circle cx="635.47" cy="112.78" r="2.9"/>
<circle cx="630" cy="127.78" r="2.9"/>
<circle cx="617.11" cy="113.77" r="2.9"/>
<circle cx="630.26" cy="107.28" r="2.9"/>
<circle cx="618.31" cy="106.04" r="2.9"/>
<circle cx="630.65" cy="92.32" r="2.9"/>
<circle cx="634.41" cy="122.03" r="2.9"/>
<circle cx="628.08" cy="87.64" r="2.9"/>
<circle cx="636.02" cy="107.72" r="2.9"/>
<circle cx="628.13" cy="114.24" r="2.9"/>
<circle cx="624.42" cy="129.12" r="2.9"/>
<circle cx="622.4" cy="109.46" r="2.9"/>
<circle cx="626.01" cy="98.3" r="2.9"/>
<circle cx="625.32" cy="120.12" r="2.9"/>
<circle cx="636.12" cy="116.61" r="2.9"/>
<circle cx="620.01" cy="116.9" r="2.9"/>
<circle cx="626.6" cy="109.5" r="2.9"/>
<circle cx="631.53" cy="103.27" r="2.9"/>
<circle cx="627.22" cy="94.27" r="2.9"/>
<circle cx="620.69" cy="100.56" r="2.9"/>
<circle cx="632.04" cy="96.76" r="2.9"/>
<circle cx="630.74" cy="123.33" r="2.9"/>
<circle cx="621.51" cy="96.97" r="2.9"/>
<circle cx="632.28" cy="110.58" r="2.9"/>
<circle cx="624.88" cy="89.86" r="2.9"/>
<circle cx="633.84" cy="118.79" r="2.9"/>
<circle cx="636.69" cy="119.52" r="2.9"/>
<circle cx="623.45" cy="106.55" r="2.9"/>
<circle cx="626.51" cy="116.88" r="2.9"/>
<circle cx="631.52" cy="115.61" r="2.9"/>
<circle cx="622.4" cy="120.23" r="2.9"/>
<circle cx="627.38" cy="125.6" r="2.9"/>
<circle cx="629.02" cy="96.78" r="2.9"/>
<circle cx="620.84" cy="104.14" r="2.9"/>
<circle cx="627.92" cy="121.88" r="2.9"/>
<circle cx="627.79" cy="103.07" r="2.9"/>
<circle cx="620.01" cy="111.5" r="2.9"/>
<circle cx="625.85" cy="112.28" r="2.9"/>
<circle cx="620.98" cy="93.6" r="2.9"/>
<circle cx="621.87" cy="127.58" r="2.9"/>
<circle cx="625.54" cy="100.83" r="2.9"/>
<circle cx="627.52" cy="91.5" r="2.9"/>
<circle cx="620.89" cy="122.79" r="2.9"/>
<circle cx="622.45" cy="117.63" r="2.9"/>
<circle cx="617.84" cy="109.97" r="2.9"/>
<circle cx="626.98" cy="106.66" r="2.9"/>
<circle cx="623.81" cy="95.83" r="2.9"/>
<circle cx="623.33" cy="98.71" r="2.9"/>
<circle cx="633.31" cy="107.71" r="2.9"/>
<circle cx="629.22" cy="116.12" r="2.9"/>
<circle cx="630.19" cy="112.53" r="2.9"/>
<circle cx="617.13" cy="116.49" r="2.9"/>
<circle cx="627.64" cy="129.59" r="2.9"/>
<circle cx="629.81" cy="120.68" r="2.9"/>
<circle cx="633.75" cy="114.44" r="2.9"/>
<circle cx="632.16" cy="99.98" r="2.9"/>
<circle cx="632.13" cy="125.03" r="2.9"/>
<circle cx="630.06" cy="94.76" r="2.9"/>
<circle cx="632.28" cy="120.48" r="2.9"/>
<circle cx="629.15" cy="89.95" r="2.9"/>
<circle cx="620.56" cy="107.36" r="2.9"/>
<circle cx="626.9" cy="71.26" r="2.9"/>
<circle cx="626.9" cy="81.65" r="2.9"/>
</g>
<g fill="none" stroke="#ee3124" stroke-width="1.45" stroke-opacity="1">
<circle cx="663.61" cy="121.24" r="2.9"/>
<circle cx="660.47" cy="78.76" r="2.9"/>
<circle cx="659.46" cy="111.24" r="2.9"/>
<circle cx="660.19" cy="87.05" r="2.9"/>
<circle cx="654.31" cy="118.27" r="2.9"/>
<circle cx="657.44" cy="94.38" r="2.9"/>
<circle cx="661.16" cy="99.42" r="2.9"/>
<circle cx="653.92" cy="104.41" r="2.9"/>
<circle cx="667.68" cy="102.5" r="2.9"/>
<circle cx="669.66" cy="108.97" r="2.9"/>
<circle cx="668.41" cy="116.54" r="2.9"/>
<circle cx="666.89" cy="95.45" r="2.9"/>
<circle cx="656.87" cy="125.47" r="2.9"/>
<circle cx="652.75" cy="111.56" r="2.9"/>
<circle cx="662.66" cy="106.1" r="2.9"/>
<circle cx="653.94" cy="97.4" r="2.9"/>
<circle cx="666.12" cy="125.85" r="2.9"/>
<circle cx="660.69" cy="116.4" r="2.9"/>
<circle cx="665.15" cy="112.28" r="2.9"/>
<circle cx="662.73" cy="92.33" r="2.9"/>
<circle cx="656.92" cy="101.05" r="2.9"/>
<circle cx="662.83" cy="82.67" r="2.9"/>
<circle cx="668.5" cy="120.64" r="2.9"/>
<circle cx="658.92" cy="105.29" r="2.9"/>
<circle cx="656.52" cy="121.17" r="2.9"/>
<circle cx="656.03" cy="109.43" r="2.9"/>
<circle cx="664" cy="101.34" r="2.9"/>
<circle cx="660.19" cy="121.36" r="2.9"/>
<circle cx="666.06" cy="108.34" r="2.9"/>
<circle cx="657.57" cy="115.07" r="2.9"/>
<circle cx="665.91" cy="118.45" r="2.9"/>
<circle cx="663.18" cy="88.75" r="2.9"/>
<circle cx="661.78" cy="95.99" r="2.9"/>
<circle cx="668.89" cy="112.86" r="2.9"/>
<circle cx="661.17" cy="124.71" r="2.9"/>
<circle cx="659.8" cy="90.29" r="2.9"/>
<circle cx="662.83" cy="76.47" r="2.9"/>
<circle cx="652.12" cy="115.02" r="2.9"/>
<circle cx="653.41" cy="107.71" r="2.9"/>
<circle cx="664.7" cy="115.41" r="2.9"/>
<circle cx="670.46" cy="105.95" r="2.9"/>
<circle cx="662.61" cy="110.47" r="2.9"/>
<circle cx="662.83" cy="85.59" r="2.9"/>
<circle cx="656.78" cy="97.01" r="2.9"/>
<circle cx="668.22" cy="97.82" r="2.9"/>
<circle cx="654.75" cy="114.35" r="2.9"/>
<circle cx="664.01" cy="98.35" r="2.9"/>
<circle cx="662.07" cy="118.63" r="2.9"/>
<circle cx="665.45" cy="104.32" r="2.9"/>
<circle cx="658.01" cy="117.87" r="2.9"/>
<circle cx="654.41" cy="100.55" r="2.9"/>
<circle cx="661.75" cy="102.44" r="2.9"/>
<circle cx="668.96" cy="100.42" r="2.9"/>
<circle cx="652.01" cy="117.54" r="2.9"/>
<circle cx="669.93" cy="103.47" r="2.9"/>
<circle cx="665.04" cy="93.65" r="2.9"/>
<circle cx="667.12" cy="123.49" r="2.9"/>
<circle cx="659.29" cy="102.32" r="2.9"/>
<circle cx="660.03" cy="113.76" r="2.9"/>
<circle cx="656.83" cy="106.77" r="2.9"/>
<circle cx="656.85" cy="103.75" r="2.9"/>
<circle cx="659.12" cy="97.07" r="2.9"/>
<circle cx="663.45" cy="125.54" r="2.9"/>
<circle cx="657.12" cy="112.43" r="2.9"/>
<circle cx="659.1" cy="123.94" r="2.9"/>
<circle cx="659.7" cy="94.84" r="2.9"/>
<circle cx="662.53" cy="113.55" r="2.9"/>
<circle cx="664.87" cy="123.53" r="2.9"/>
<circle cx="661.6" cy="31.43" r="2.9"/>
<circle cx="661.2" cy="33.16" r="2.9"/>
<circle cx="661.6" cy="34.65" r="2.9"/>
<circle cx="661.4" cy="61.61" r="2.9"/>
</g>
<path d="M558.3 74.48V116.54M552.1 74.48H564.5M552.1 116.54H564.5" stroke="#000" stroke-width="2" fill="none"/>
<rect x="548.05" y="96.76" width="20.5" height="61.34" fill="none" stroke="#000" stroke-width="2.5"/>
<path d="M592.75 78.44V120M586.55 78.44H598.95M586.55 120H598.95" stroke="#000" stroke-width="2" fill="none"/>
<rect x="582.85" y="100.72" width="19.8" height="57.38" fill="none" stroke="#000" stroke-width="2.5"/>
<path d="M626.9 98.48V122.23M620.7 98.48H633.1M620.7 122.23H633.1" stroke="#3a2fe0" stroke-width="2" fill="none"/>
<rect x="616.65" y="112.84" width="20.5" height="45.26" fill="none" stroke="#3a2fe0" stroke-width="2.5"/>
<path d="M661.4 84.62V121.48M655.2 84.62H667.6M655.2 121.48H667.6" stroke="#3a2fe0" stroke-width="2" fill="none"/>
<rect x="651.15" y="105.66" width="20.5" height="52.44" fill="none" stroke="#3a2fe0" stroke-width="2.5"/>
<text x="558.3" y="156" font-size="12.5" text-anchor="middle">124</text>
<text x="592.75" y="156" font-size="12.5" text-anchor="middle">82</text>
<text x="626.9" y="156" font-size="12.5" text-anchor="middle">70</text>
<text x="661.4" y="156" font-size="12.5" text-anchor="middle">73</text>
<path d="M535.8 8.81V159.1" stroke="#000" stroke-width="2"/>
<path d="M534.8 158.1H683.8" stroke="#000" stroke-width="2"/>
<path d="M527.2 158.1H535.8" stroke="#000" stroke-width="1.7"/>
<text x="523.8" y="163.3" font-size="15" text-anchor="end">0</text>
<path d="M527.2 108.62H535.8" stroke="#000" stroke-width="1.7"/>
<text x="523.8" y="113.82" font-size="15" text-anchor="end">2</text>
<path d="M527.2 59.14H535.8" stroke="#000" stroke-width="1.7"/>
<text x="523.8" y="64.34" font-size="15" text-anchor="end">4</text>
<path d="M527.2 9.66H535.8" stroke="#000" stroke-width="1.7"/>
<text x="523.8" y="14.86" font-size="15" text-anchor="end">6</text>
<path d="M558.4 20.6V17.4H592.7V20.6" stroke="#000" stroke-width="1.3" fill="none"/>
<text x="575.55" y="14.2" font-size="11" text-anchor="middle">0.26</text>
<path d="M626.3 23.3V20.1H661.3V23.3" stroke="#000" stroke-width="1.3" fill="none"/>
<text x="643.8" y="17.9" font-size="11" text-anchor="middle">0.0094</text>
<text transform="translate(502.5 83.88) rotate(-90)" font-size="16" text-anchor="middle">F/F<tspan font-size="12.5" dy="5.5">0</tspan></text>
<text x="610.3" y="177.6" font-size="16" text-anchor="middle">WT</text>
<rect x="296.1" y="281.66" width="21.3" height="78.84" fill="#d4d4d4"/>
<rect x="330.4" y="269.98" width="21" height="90.52" fill="#d4d4d4"/>
<rect x="364.2" y="294.46" width="21" height="66.04" fill="#d3d6f9"/>
<rect x="398.7" y="284.44" width="21" height="76.06" fill="#d3d6f9"/>
<g fill="none" stroke="#000" stroke-width="1.45" stroke-opacity="0.55">
<circle cx="302.15" cy="278.43" r="2.9"/>
<circle cx="306.95" cy="271.42" r="2.9"/>
<circle cx="299.7" cy="284.22" r="2.9"/>
<circle cx="302.96" cy="290.19" r="2.9"/>
<circle cx="306.73" cy="305.19" r="2.9"/>
<circle cx="309.54" cy="290.3" r="2.9"/>
<circle cx="311.01" cy="266.91" r="2.9"/>
<circle cx="301.32" cy="262.41" r="2.9"/>
<circle cx="308.67" cy="279.6" r="2.9"/>
<circle cx="305.41" cy="298.66" r="2.9"/>
<circle cx="313.38" cy="284.08" r="2.9"/>
<circle cx="314.06" cy="276.36" r="2.9"/>
<circle cx="299.45" cy="270.09" r="2.9"/>
<circle cx="310.37" cy="296.69" r="2.9"/>
<circle cx="306.49" cy="283.67" r="2.9"/>
<circle cx="305.56" cy="264.61" r="2.9"/>
<circle cx="314.45" cy="270.53" r="2.9"/>
<circle cx="304.78" cy="294.01" r="2.9"/>
<circle cx="298.71" cy="275.44" r="2.9"/>
<circle cx="309.27" cy="301.15" r="2.9"/>
<circle cx="310.28" cy="273.91" r="2.9"/>
<circle cx="311.81" cy="262.63" r="2.9"/>
<circle cx="306.88" cy="276.42" r="2.9"/>
<circle cx="306.06" cy="287.3" r="2.9"/>
<circle cx="300.45" cy="266.3" r="2.9"/>
<circle cx="303.11" cy="303.31" r="2.9"/>
<circle cx="310.36" cy="270.33" r="2.9"/>
<circle cx="304.16" cy="269.53" r="2.9"/>
<circle cx="310.75" cy="286.31" r="2.9"/>
<circle cx="302.77" cy="272.93" r="2.9"/>
<circle cx="303.11" cy="285.27" r="2.9"/>
<circle cx="312.67" cy="281.03" r="2.9"/>
<circle cx="302.59" cy="282.06" r="2.9"/>
<circle cx="306.36" cy="290.83" r="2.9"/>
<circle cx="309.87" cy="304.95" r="2.9"/>
<circle cx="299.05" cy="278.75" r="2.9"/>
<circle cx="314.13" cy="267.56" r="2.9"/>
<circle cx="304.24" cy="306.32" r="2.9"/>
<circle cx="302.81" cy="296.09" r="2.9"/>
<circle cx="306.86" cy="267.12" r="2.9"/>
<circle cx="303.2" cy="266.21" r="2.9"/>
<circle cx="310.7" cy="292.81" r="2.9"/>
<circle cx="310.62" cy="276.88" r="2.9"/>
<circle cx="309.84" cy="282.48" r="2.9"/>
<circle cx="305.24" cy="281.07" r="2.9"/>
<circle cx="300.42" cy="273.13" r="2.9"/>
<circle cx="301.55" cy="287.44" r="2.9"/>
<circle cx="307.49" cy="294.21" r="2.9"/>
<circle cx="313.22" cy="287.52" r="2.9"/>
<circle cx="309.51" cy="264.12" r="2.9"/>
<circle cx="305.31" cy="301.42" r="2.9"/>
<circle cx="305.55" cy="278.26" r="2.9"/>
<circle cx="313.24" cy="278.92" r="2.9"/>
<circle cx="301.61" cy="269.87" r="2.9"/>
<circle cx="308.22" cy="285.96" r="2.9"/>
<circle cx="306.04" cy="273.77" r="2.9"/>
<circle cx="301.68" cy="275.42" r="2.9"/>
<circle cx="307.49" cy="300.11" r="2.9"/>
<circle cx="302.91" cy="264.18" r="2.9"/>
<circle cx="311.84" cy="275.25" r="2.9"/>
<circle cx="306.85" cy="262.44" r="2.9"/>
</g>
<g fill="none" stroke="#ee3124" stroke-width="1.45" stroke-opacity="1">
<circle cx="340.73" cy="230.22" r="2.9"/>
<circle cx="342.77" cy="250.66" r="2.9"/>
<circle cx="339.09" cy="252.7" r="2.9"/>
<circle cx="331.94" cy="262.92" r="2.9"/>
<circle cx="337.05" cy="265.37" r="2.9"/>
<circle cx="345.22" cy="265.37" r="2.9"/>
<circle cx="349.31" cy="264.96" r="2.9"/>
<circle cx="333.98" cy="269.05" r="2.9"/>
<circle cx="331.94" cy="275.18" r="2.9"/>
<circle cx="337.05" cy="275.18" r="2.9"/>
<circle cx="342.16" cy="274.77" r="2.9"/>
<circle cx="347.27" cy="274.16" r="2.9"/>
<circle cx="333.98" cy="280.29" r="2.9"/>
<circle cx="339.09" cy="280.29" r="2.9"/>
<circle cx="345.22" cy="279.27" r="2.9"/>
<circle cx="349.31" cy="279.27" r="2.9"/>
<circle cx="331.94" cy="284.99" r="2.9"/>
<circle cx="338.07" cy="285.4" r="2.9"/>
<circle cx="346.25" cy="285.81" r="2.9"/>
</g>
<g fill="none" stroke="#000" stroke-width="1.45" stroke-opacity="0.55">
<circle cx="374.86" cy="273.55" r="2.9"/>
<circle cx="366.68" cy="286.42" r="2.9"/>
<circle cx="377.92" cy="286.83" r="2.9"/>
<circle cx="384.06" cy="285.81" r="2.9"/>
<circle cx="369.75" cy="291.53" r="2.9"/>
<circle cx="380.38" cy="292.55" r="2.9"/>
<circle cx="365.66" cy="298.68" r="2.9"/>
<circle cx="372.82" cy="299.71" r="2.9"/>
<circle cx="379.97" cy="298.68" r="2.9"/>
<circle cx="385.08" cy="299.71" r="2.9"/>
<circle cx="368.73" cy="303.79" r="2.9"/>
<circle cx="374.86" cy="304.2" r="2.9"/>
<circle cx="380.99" cy="304.2" r="2.9"/>
</g>
<g fill="none" stroke="#ee3124" stroke-width="1.45" stroke-opacity="1">
<circle cx="410.62" cy="269.05" r="2.9"/>
<circle cx="399.38" cy="272.12" r="2.9"/>
<circle cx="404.49" cy="273.55" r="2.9"/>
<circle cx="414.71" cy="272.73" r="2.9"/>
<circle cx="418.39" cy="273.55" r="2.9"/>
<circle cx="406.54" cy="281.31" r="2.9"/>
<circle cx="413.69" cy="287.44" r="2.9"/>
<circle cx="403.47" cy="292.55" r="2.9"/>
<circle cx="408.58" cy="291.53" r="2.9"/>
<circle cx="415.73" cy="289.49" r="2.9"/>
<circle cx="404.49" cy="296.03" r="2.9"/>
<circle cx="412.67" cy="295.21" r="2.9"/>
<circle cx="408.99" cy="303.79" r="2.9"/>
</g>
<path d="M306.75 268.86V294.46M300.55 268.86H312.95M300.55 294.46H312.95" stroke="#000" stroke-width="2" fill="none"/>
<rect x="296.45" y="282.91" width="20.6" height="77.59" fill="none" stroke="#000" stroke-width="2.5"/>
<path d="M340.9 256.62V283.7M334.7 256.62H347.1M334.7 283.7H347.1" stroke="#000" stroke-width="2" fill="none"/>
<rect x="330.75" y="271.23" width="20.3" height="89.27" fill="none" stroke="#000" stroke-width="2.5"/>
<path d="M374.7 285.19V302.62M368.5 285.19H380.9M368.5 302.62H380.9" stroke="#3a2fe0" stroke-width="2" fill="none"/>
<rect x="364.55" y="295.71" width="20.3" height="64.79" fill="none" stroke="#3a2fe0" stroke-width="2.5"/>
<path d="M409.2 272.57V294.46M403 272.57H415.4M403 294.46H415.4" stroke="#3a2fe0" stroke-width="2" fill="none"/>
<rect x="399.05" y="285.69" width="20.3" height="74.81" fill="none" stroke="#3a2fe0" stroke-width="2.5"/>
<text x="306.75" y="358.4" font-size="12.5" text-anchor="middle">61</text>
<text x="340.9" y="358.4" font-size="12.5" text-anchor="middle">15</text>
<text x="374.7" y="358.4" font-size="12.5" text-anchor="middle">20</text>
<text x="409.2" y="358.4" font-size="12.5" text-anchor="middle">13</text>
<path d="M283.7 211.25V361.5" stroke="#000" stroke-width="2"/>
<path d="M282.7 360.5H432" stroke="#000" stroke-width="2"/>
<path d="M275.9 360.5H283.7" stroke="#000" stroke-width="1.7"/>
<text x="272.2" y="365.7" font-size="15" text-anchor="end">0</text>
<path d="M275.9 323.4H283.7" stroke="#000" stroke-width="1.7"/>
<text x="272.2" y="328.6" font-size="15" text-anchor="end">1</text>
<path d="M275.9 286.3H283.7" stroke="#000" stroke-width="1.7"/>
<text x="272.2" y="291.5" font-size="15" text-anchor="end">2</text>
<path d="M275.9 249.2H283.7" stroke="#000" stroke-width="1.7"/>
<text x="272.2" y="254.4" font-size="15" text-anchor="end">3</text>
<path d="M275.9 212.1H283.7" stroke="#000" stroke-width="1.7"/>
<text x="272.2" y="217.3" font-size="15" text-anchor="end">4</text>
<path d="M306.2 222.7V219.5H340.8V222.7" stroke="#000" stroke-width="1.3" fill="none"/>
<text x="323.5" y="216.9" font-size="11" text-anchor="middle">0.024</text>
<path d="M374.9 235V231.8H409.6V235" stroke="#000" stroke-width="1.3" fill="none"/>
<text x="392.25" y="228.6" font-size="11" text-anchor="middle">0.044</text>
<text transform="translate(250.2 286.3) rotate(-90)" font-size="16" text-anchor="middle">F/F<tspan font-size="12.5" dy="5.5">0</tspan></text>
<text x="324.7" y="380.2" font-size="16.3"><tspan font-style="italic">Cmya5</tspan><tspan font-style="italic" font-size="10.2" dy="-5">KO</tspan></text>
<rect x="548.1" y="294.15" width="21.1" height="66.3" fill="#d4d4d4"/>
<rect x="582.1" y="296.13" width="20.7" height="64.32" fill="#d4d4d4"/>
<rect x="616.9" y="310.23" width="21" height="50.22" fill="#d3d6f9"/>
<rect x="651.3" y="303.55" width="20.6" height="56.9" fill="#d3d6f9"/>
<g fill="none" stroke="#000" stroke-width="1.45" stroke-opacity="0.55">
<circle cx="557.46" cy="323.84" r="2.9"/>
<circle cx="552.14" cy="283.3" r="2.9"/>
<circle cx="552.73" cy="310.58" r="2.9"/>
<circle cx="557.18" cy="292.24" r="2.9"/>
<circle cx="557.29" cy="264.43" r="2.9"/>
<circle cx="566.27" cy="289.27" r="2.9"/>
<circle cx="554.27" cy="273.95" r="2.9"/>
<circle cx="556.91" cy="304.29" r="2.9"/>
<circle cx="564.38" cy="318.93" r="2.9"/>
<circle cx="562.93" cy="276.25" r="2.9"/>
<circle cx="564.6" cy="304.34" r="2.9"/>
<circle cx="563.5" cy="295.86" r="2.9"/>
<circle cx="551.09" cy="317.04" r="2.9"/>
<circle cx="552.32" cy="296.39" r="2.9"/>
<circle cx="561.97" cy="311.64" r="2.9"/>
<circle cx="564.15" cy="283.19" r="2.9"/>
<circle cx="556.39" cy="314.89" r="2.9"/>
<circle cx="556.52" cy="279.63" r="2.9"/>
<circle cx="552.48" cy="288.52" r="2.9"/>
<circle cx="551.07" cy="303.47" r="2.9"/>
<circle cx="558.77" cy="285.92" r="2.9"/>
<circle cx="557.5" cy="298.68" r="2.9"/>
<circle cx="563.41" cy="323.66" r="2.9"/>
<circle cx="566.75" cy="314.35" r="2.9"/>
<circle cx="553.11" cy="321.62" r="2.9"/>
<circle cx="566.8" cy="308.57" r="2.9"/>
<circle cx="560.04" cy="269.67" r="2.9"/>
<circle cx="559.62" cy="307.78" r="2.9"/>
<circle cx="552.98" cy="277.91" r="2.9"/>
<circle cx="566.55" cy="299.87" r="2.9"/>
<circle cx="556.83" cy="319.19" r="2.9"/>
<circle cx="562.27" cy="288.56" r="2.9"/>
<circle cx="559.9" cy="281.59" r="2.9"/>
<circle cx="559.02" cy="273.76" r="2.9"/>
<circle cx="551.88" cy="292.33" r="2.9"/>
<circle cx="565.77" cy="279.81" r="2.9"/>
<circle cx="563.37" cy="301.01" r="2.9"/>
<circle cx="561.3" cy="320.55" r="2.9"/>
<circle cx="555.7" cy="283.25" r="2.9"/>
<circle cx="553.98" cy="301.24" r="2.9"/>
<circle cx="560.3" cy="303.19" r="2.9"/>
<circle cx="556.4" cy="269.95" r="2.9"/>
<circle cx="564.55" cy="271.73" r="2.9"/>
<circle cx="562.23" cy="315.18" r="2.9"/>
<circle cx="557.79" cy="288.91" r="2.9"/>
<circle cx="565.19" cy="293.16" r="2.9"/>
<circle cx="555.02" cy="307.42" r="2.9"/>
<circle cx="555.46" cy="295.95" r="2.9"/>
<circle cx="556.04" cy="276.72" r="2.9"/>
<circle cx="560.46" cy="296.63" r="2.9"/>
<circle cx="559.04" cy="277.88" r="2.9"/>
<circle cx="555.79" cy="311.81" r="2.9"/>
<circle cx="560.03" cy="299.85" r="2.9"/>
<circle cx="550.65" cy="285.67" r="2.9"/>
<circle cx="560.22" cy="266.83" r="2.9"/>
<circle cx="552.6" cy="280.59" r="2.9"/>
<circle cx="554.05" cy="318.04" r="2.9"/>
<circle cx="560.3" cy="323.92" r="2.9"/>
<circle cx="561.32" cy="291.78" r="2.9"/>
<circle cx="551.81" cy="275.39" r="2.9"/>
<circle cx="552.95" cy="314.61" r="2.9"/>
<circle cx="562.72" cy="308.07" r="2.9"/>
<circle cx="562.13" cy="279.63" r="2.9"/>
<circle cx="565.37" cy="311.87" r="2.9"/>
<circle cx="558.75" cy="312.03" r="2.9"/>
<circle cx="555.21" cy="287.9" r="2.9"/>
<circle cx="566.79" cy="305.63" r="2.9"/>
<circle cx="558.65" cy="228.59" r="2.9"/>
<circle cx="557.75" cy="244.17" r="2.9"/>
<circle cx="559.95" cy="246.4" r="2.9"/>
<circle cx="558.65" cy="254.07" r="2.9"/>
</g>
<g fill="none" stroke="#ee3124" stroke-width="1.45" stroke-opacity="1">
<circle cx="590.34" cy="312.53" r="2.9"/>
<circle cx="592.52" cy="282.31" r="2.9"/>
<circle cx="596.48" cy="298.73" r="2.9"/>
<circle cx="590.92" cy="271.35" r="2.9"/>
<circle cx="597.37" cy="308.49" r="2.9"/>
<circle cx="594.09" cy="289.1" r="2.9"/>
<circle cx="588.62" cy="305.39" r="2.9"/>
<circle cx="585.12" cy="298.09" r="2.9"/>
<circle cx="599.27" cy="293.05" r="2.9"/>
<circle cx="596.88" cy="316.12" r="2.9"/>
<circle cx="583.46" cy="286.99" r="2.9"/>
<circle cx="588.11" cy="293.27" r="2.9"/>
<circle cx="599.79" cy="286.02" r="2.9"/>
<circle cx="590.67" cy="276.99" r="2.9"/>
<circle cx="591.69" cy="301.15" r="2.9"/>
<circle cx="588.34" cy="285.95" r="2.9"/>
<circle cx="593.33" cy="293.94" r="2.9"/>
<circle cx="600.17" cy="303.18" r="2.9"/>
<circle cx="595.44" cy="278.26" r="2.9"/>
<circle cx="593.48" cy="306.16" r="2.9"/>
<circle cx="595.1" cy="274.56" r="2.9"/>
<circle cx="584.25" cy="292.95" r="2.9"/>
<circle cx="584.69" cy="302.27" r="2.9"/>
<circle cx="595.59" cy="285.45" r="2.9"/>
<circle cx="600.04" cy="297.76" r="2.9"/>
<circle cx="597.22" cy="312.36" r="2.9"/>
<circle cx="594.65" cy="302.9" r="2.9"/>
<circle cx="591.51" cy="309.04" r="2.9"/>
<circle cx="592.84" cy="297.59" r="2.9"/>
<circle cx="587.43" cy="310.67" r="2.9"/>
<circle cx="593.86" cy="312.76" r="2.9"/>
<circle cx="586.22" cy="290.21" r="2.9"/>
<circle cx="589.82" cy="289" r="2.9"/>
<circle cx="600.68" cy="289.52" r="2.9"/>
<circle cx="589.58" cy="280.46" r="2.9"/>
<circle cx="588.03" cy="315.1" r="2.9"/>
<circle cx="589.08" cy="298.11" r="2.9"/>
<circle cx="596.64" cy="305.19" r="2.9"/>
<circle cx="587.42" cy="300.48" r="2.9"/>
<circle cx="585.75" cy="305.42" r="2.9"/>
<circle cx="595.45" cy="281.83" r="2.9"/>
<circle cx="589.96" cy="283.88" r="2.9"/>
<circle cx="594.05" cy="300.13" r="2.9"/>
<circle cx="598.94" cy="295.55" r="2.9"/>
<circle cx="598.26" cy="300.86" r="2.9"/>
<circle cx="598.51" cy="290.66" r="2.9"/>
<circle cx="590.46" cy="306.93" r="2.9"/>
<circle cx="593.09" cy="314.99" r="2.9"/>
<circle cx="594.36" cy="272.06" r="2.9"/>
<circle cx="590.82" cy="296" r="2.9"/>
<circle cx="588.93" cy="308.88" r="2.9"/>
<circle cx="591.59" cy="285.85" r="2.9"/>
<circle cx="589.98" cy="274.38" r="2.9"/>
<circle cx="590.63" cy="293.39" r="2.9"/>
<circle cx="593.04" cy="291.34" r="2.9"/>
<circle cx="587.88" cy="303.11" r="2.9"/>
<circle cx="592.88" cy="269.7" r="2.9"/>
<circle cx="601.72" cy="292.99" r="2.9"/>
<circle cx="593.17" cy="280.07" r="2.9"/>
<circle cx="593.8" cy="309.61" r="2.9"/>
<circle cx="595.88" cy="295.92" r="2.9"/>
<circle cx="590.99" cy="304.05" r="2.9"/>
<circle cx="589.49" cy="301.62" r="2.9"/>
<circle cx="592.92" cy="277.16" r="2.9"/>
<circle cx="597.7" cy="284.89" r="2.9"/>
<circle cx="597.27" cy="302.89" r="2.9"/>
<circle cx="587" cy="307.78" r="2.9"/>
<circle cx="590.32" cy="315.3" r="2.9"/>
<circle cx="598.91" cy="305.68" r="2.9"/>
<circle cx="583.25" cy="289.47" r="2.9"/>
<circle cx="586.83" cy="296.55" r="2.9"/>
<circle cx="593.63" cy="284.32" r="2.9"/>
<circle cx="595.89" cy="287.74" r="2.9"/>
<circle cx="596.36" cy="293.57" r="2.9"/>
<circle cx="598.79" cy="288.41" r="2.9"/>
<circle cx="589.41" cy="291.25" r="2.9"/>
<circle cx="587.3" cy="288.42" r="2.9"/>
<circle cx="595.24" cy="307.21" r="2.9"/>
<circle cx="592.29" cy="274.28" r="2.9"/>
<circle cx="586.24" cy="286.47" r="2.9"/>
<circle cx="600.34" cy="300.57" r="2.9"/>
<circle cx="595.84" cy="290.42" r="2.9"/>
<circle cx="596.28" cy="301.14" r="2.9"/>
<circle cx="586.02" cy="292.3" r="2.9"/>
<circle cx="585.28" cy="288.57" r="2.9"/>
<circle cx="588.37" cy="312.39" r="2.9"/>
<circle cx="591.57" cy="278.78" r="2.9"/>
<circle cx="590.5" cy="310.51" r="2.9"/>
<circle cx="592.45" cy="262.73" r="2.9"/>
<circle cx="592.45" cy="266.44" r="2.9"/>
</g>
<g fill="none" stroke="#000" stroke-width="1.45" stroke-opacity="0.55">
<circle cx="633.23" cy="311.21" r="2.9"/>
<circle cx="631.86" cy="318.46" r="2.9"/>
<circle cx="630.19" cy="302.83" r="2.9"/>
<circle cx="623.89" cy="309.59" r="2.9"/>
<circle cx="621.77" cy="319.32" r="2.9"/>
<circle cx="618.93" cy="305.19" r="2.9"/>
<circle cx="628.97" cy="324.3" r="2.9"/>
<circle cx="635.72" cy="305.02" r="2.9"/>
<circle cx="626.42" cy="316.31" r="2.9"/>
<circle cx="623.65" cy="303.12" r="2.9"/>
<circle cx="621.77" cy="314.23" r="2.9"/>
<circle cx="628.64" cy="310.18" r="2.9"/>
<circle cx="626.85" cy="313.09" r="2.9"/>
<circle cx="622.64" cy="306.49" r="2.9"/>
<circle cx="626.92" cy="300.96" r="2.9"/>
<circle cx="636.59" cy="310.24" r="2.9"/>
<circle cx="625.13" cy="319.27" r="2.9"/>
<circle cx="628.71" cy="305.98" r="2.9"/>
<circle cx="625.73" cy="324.42" r="2.9"/>
<circle cx="633.17" cy="307.53" r="2.9"/>
<circle cx="632.88" cy="322.17" r="2.9"/>
<circle cx="619.94" cy="302.02" r="2.9"/>
<circle cx="634.85" cy="301.22" r="2.9"/>
<circle cx="620.28" cy="309.41" r="2.9"/>
<circle cx="629.8" cy="314.4" r="2.9"/>
<circle cx="628.12" cy="318.89" r="2.9"/>
<circle cx="622.62" cy="322.51" r="2.9"/>
<circle cx="632.62" cy="304.27" r="2.9"/>
<circle cx="623.83" cy="316.46" r="2.9"/>
<circle cx="623.85" cy="312.47" r="2.9"/>
<circle cx="629.65" cy="321.57" r="2.9"/>
<circle cx="630.52" cy="312.02" r="2.9"/>
<circle cx="632.71" cy="315.65" r="2.9"/>
<circle cx="627.21" cy="322.15" r="2.9"/>
<circle cx="620.26" cy="312.21" r="2.9"/>
<circle cx="626.38" cy="304.52" r="2.9"/>
<circle cx="626.25" cy="308.32" r="2.9"/>
<circle cx="634.26" cy="313.27" r="2.9"/>
<circle cx="632.38" cy="300.74" r="2.9"/>
<circle cx="631.07" cy="309.72" r="2.9"/>
<circle cx="629.62" cy="316.77" r="2.9"/>
<circle cx="624.74" cy="306.25" r="2.9"/>
<circle cx="634.69" cy="309.05" r="2.9"/>
<circle cx="624.77" cy="321.36" r="2.9"/>
<circle cx="621.92" cy="301.97" r="2.9"/>
<circle cx="630.42" cy="307.27" r="2.9"/>
<circle cx="630.8" cy="304.89" r="2.9"/>
<circle cx="625.93" cy="310.22" r="2.9"/>
<circle cx="620.62" cy="307.01" r="2.9"/>
<circle cx="624.26" cy="314.27" r="2.9"/>
<circle cx="628.4" cy="302" r="2.9"/>
<circle cx="624.61" cy="301.45" r="2.9"/>
<circle cx="636.25" cy="303.27" r="2.9"/>
<circle cx="635.13" cy="307.02" r="2.9"/>
<circle cx="634.05" cy="302.92" r="2.9"/>
<circle cx="632.58" cy="313.33" r="2.9"/>
<circle cx="628.6" cy="304.29" r="2.9"/>
<circle cx="623.38" cy="304.81" r="2.9"/>
<circle cx="627" cy="306.32" r="2.9"/>
<circle cx="628.6" cy="312.33" r="2.9"/>
</g>
<g fill="none" stroke="#ee3124" stroke-width="1.45" stroke-opacity="1">
<circle cx="667.37" cy="303.78" r="2.9"/>
<circle cx="660.32" cy="307.39" r="2.9"/>
<circle cx="657.49" cy="313.52" r="2.9"/>
<circle cx="663" cy="296.37" r="2.9"/>
<circle cx="669.54" cy="309.49" r="2.9"/>
<circle cx="654.12" cy="307.65" r="2.9"/>
<circle cx="658.53" cy="301.61" r="2.9"/>
<circle cx="665.25" cy="315.36" r="2.9"/>
<circle cx="665.1" cy="309.91" r="2.9"/>
<circle cx="663.58" cy="300.59" r="2.9"/>
<circle cx="654.11" cy="302.84" r="2.9"/>
<circle cx="658.73" cy="293.83" r="2.9"/>
<circle cx="661.71" cy="303.4" r="2.9"/>
<circle cx="660.77" cy="311.65" r="2.9"/>
<circle cx="661.33" cy="315.3" r="2.9"/>
<circle cx="653.9" cy="311.5" r="2.9"/>
<circle cx="658.84" cy="297.86" r="2.9"/>
<circle cx="667.03" cy="312.61" r="2.9"/>
<circle cx="667.2" cy="307.62" r="2.9"/>
<circle cx="663.76" cy="305.76" r="2.9"/>
<circle cx="657.16" cy="309.35" r="2.9"/>
<circle cx="654.67" cy="314.23" r="2.9"/>
<circle cx="669.89" cy="313.95" r="2.9"/>
<circle cx="663.42" cy="312.37" r="2.9"/>
<circle cx="659.2" cy="304.8" r="2.9"/>
<circle cx="663.82" cy="293.78" r="2.9"/>
<circle cx="669.85" cy="306.54" r="2.9"/>
<circle cx="656.06" cy="305.78" r="2.9"/>
<circle cx="656.72" cy="303.28" r="2.9"/>
<circle cx="669.68" cy="304.11" r="2.9"/>
<circle cx="658.78" cy="315.28" r="2.9"/>
<circle cx="660.82" cy="298.97" r="2.9"/>
<circle cx="662.78" cy="308.04" r="2.9"/>
<circle cx="664.75" cy="303.49" r="2.9"/>
<circle cx="660.46" cy="295.47" r="2.9"/>
<circle cx="655.71" cy="312.41" r="2.9"/>
<circle cx="660.75" cy="301.25" r="2.9"/>
<circle cx="659.16" cy="309.84" r="2.9"/>
<circle cx="664.82" cy="307.51" r="2.9"/>
<circle cx="666.58" cy="305.93" r="2.9"/>
<circle cx="669.89" cy="311.9" r="2.9"/>
<circle cx="663.89" cy="314.06" r="2.9"/>
<circle cx="663.09" cy="310.19" r="2.9"/>
<circle cx="657.62" cy="307.01" r="2.9"/>
<circle cx="665.75" cy="302.01" r="2.9"/>
<circle cx="655.34" cy="308.87" r="2.9"/>
<circle cx="663.71" cy="298.55" r="2.9"/>
<circle cx="654.21" cy="305.44" r="2.9"/>
<circle cx="661.6" cy="273.12" r="2.9"/>
<circle cx="661.6" cy="278.56" r="2.9"/>
<circle cx="661.6" cy="283.01" r="2.9"/>
<circle cx="662.1" cy="287.96" r="2.9"/>
<circle cx="661.6" cy="291.18" r="2.9"/>
</g>
<path d="M558.65 273.86V313.69M552.45 273.86H564.85M552.45 313.69H564.85" stroke="#000" stroke-width="2" fill="none"/>
<rect x="548.45" y="295.4" width="20.4" height="65.05" fill="none" stroke="#000" stroke-width="2.5"/>
<path d="M592.45 283.26V308.74M586.25 283.26H598.65M586.25 308.74H598.65" stroke="#000" stroke-width="2" fill="none"/>
<rect x="582.45" y="297.38" width="20" height="63.07" fill="none" stroke="#000" stroke-width="2.5"/>
<path d="M627.4 302.81V317.15M621.2 302.81H633.6M621.2 317.15H633.6" stroke="#3a2fe0" stroke-width="2" fill="none"/>
<rect x="617.25" y="311.48" width="20.3" height="48.97" fill="none" stroke="#3a2fe0" stroke-width="2.5"/>
<path d="M661.6 292.41V313.69M655.4 292.41H667.8M655.4 313.69H667.8" stroke="#3a2fe0" stroke-width="2" fill="none"/>
<rect x="651.65" y="304.8" width="19.9" height="55.65" fill="none" stroke="#3a2fe0" stroke-width="2.5"/>
<text x="558.65" y="358.35" font-size="12.5" text-anchor="middle">71</text>
<text x="592.45" y="358.35" font-size="12.5" text-anchor="middle">42</text>
<text x="627.4" y="358.35" font-size="12.5" text-anchor="middle">90</text>
<text x="661.6" y="358.35" font-size="12.5" text-anchor="middle">39</text>
<path d="M535.8 211.16V361.45" stroke="#000" stroke-width="2"/>
<path d="M534.8 360.45H683.8" stroke="#000" stroke-width="2"/>
<path d="M527.2 360.45H535.8" stroke="#000" stroke-width="1.7"/>
<text x="523.8" y="365.65" font-size="15" text-anchor="end">0</text>
<path d="M527.2 310.97H535.8" stroke="#000" stroke-width="1.7"/>
<text x="523.8" y="316.17" font-size="15" text-anchor="end">2</text>
<path d="M527.2 261.49H535.8" stroke="#000" stroke-width="1.7"/>
<text x="523.8" y="266.69" font-size="15" text-anchor="end">4</text>
<path d="M527.2 212.01H535.8" stroke="#000" stroke-width="1.7"/>
<text x="523.8" y="217.21" font-size="15" text-anchor="end">6</text>
<path d="M558.5 219.2V216H593V219.2" stroke="#000" stroke-width="1.3" fill="none"/>
<text x="575.75" y="213.7" font-size="11" text-anchor="middle">1.0</text>
<path d="M626.8 234.6V231.4H661.3V234.6" stroke="#000" stroke-width="1.3" fill="none"/>
<text x="644.05" y="229.5" font-size="11" text-anchor="middle">0.020</text>
<text transform="translate(502.5 286.23) rotate(-90)" font-size="16" text-anchor="middle">F/F<tspan font-size="12.5" dy="5.5">0</tspan></text>
<text x="610.3" y="380.2" font-size="16" text-anchor="middle">WT</text>
<rect x="297.1" y="509.09" width="21.1" height="45.61" fill="#d4d4d4"/>
<rect x="331.6" y="495.24" width="20.9" height="59.46" fill="#d4d4d4"/>
<rect x="364.9" y="525.86" width="21.1" height="28.84" fill="#d3d6f9"/>
<rect x="399.5" y="508.32" width="20.8" height="46.38" fill="#d3d6f9"/>
<g fill="none" stroke="#000" stroke-width="1.45" stroke-opacity="0.55">
<circle cx="302.04" cy="513.58" r="2.9"/>
<circle cx="310.54" cy="486.02" r="2.9"/>
<circle cx="311.53" cy="504.68" r="2.9"/>
<circle cx="302.41" cy="489.88" r="2.9"/>
<circle cx="302.06" cy="525.54" r="2.9"/>
<circle cx="300.95" cy="499.43" r="2.9"/>
<circle cx="313.23" cy="492.72" r="2.9"/>
<circle cx="310.82" cy="526.89" r="2.9"/>
<circle cx="304.88" cy="482.6" r="2.9"/>
<circle cx="310.61" cy="516.27" r="2.9"/>
<circle cx="307.62" cy="496.41" r="2.9"/>
<circle cx="304.74" cy="531.33" r="2.9"/>
<circle cx="302.92" cy="505.24" r="2.9"/>
<circle cx="310.57" cy="532.98" r="2.9"/>
<circle cx="307.21" cy="522.46" r="2.9"/>
<circle cx="314.09" cy="521.7" r="2.9"/>
<circle cx="308.65" cy="510.34" r="2.9"/>
<circle cx="315.25" cy="511.73" r="2.9"/>
<circle cx="299.76" cy="509.1" r="2.9"/>
<circle cx="302.68" cy="519.97" r="2.9"/>
<circle cx="315" cy="499.87" r="2.9"/>
<circle cx="307.66" cy="502.02" r="2.9"/>
<circle cx="314.9" cy="483.59" r="2.9"/>
<circle cx="300.31" cy="485.36" r="2.9"/>
<circle cx="300.2" cy="530" r="2.9"/>
<circle cx="315.41" cy="528.25" r="2.9"/>
<circle cx="308.97" cy="490.66" r="2.9"/>
<circle cx="301.21" cy="495.18" r="2.9"/>
<circle cx="306.15" cy="487.23" r="2.9"/>
<circle cx="306.11" cy="513.3" r="2.9"/>
<circle cx="306.54" cy="507.02" r="2.9"/>
<circle cx="315.16" cy="505.21" r="2.9"/>
<circle cx="299.49" cy="521.8" r="2.9"/>
<circle cx="306.17" cy="517.97" r="2.9"/>
<circle cx="311.36" cy="496.91" r="2.9"/>
<circle cx="300.65" cy="481.57" r="2.9"/>
<circle cx="315.32" cy="517.01" r="2.9"/>
<circle cx="308.43" cy="529.78" r="2.9"/>
<circle cx="305.25" cy="492.82" r="2.9"/>
<circle cx="313.23" cy="508.84" r="2.9"/>
<circle cx="310.27" cy="481.62" r="2.9"/>
<circle cx="304.09" cy="500.8" r="2.9"/>
<circle cx="300.07" cy="516.36" r="2.9"/>
<circle cx="304.16" cy="510.78" r="2.9"/>
<circle cx="313.44" cy="514.46" r="2.9"/>
<circle cx="314.01" cy="530.63" r="2.9"/>
</g>
<g fill="none" stroke="#ee3124" stroke-width="1.45" stroke-opacity="1">
<circle cx="341.16" cy="487.83" r="2.9"/>
<circle cx="345.2" cy="507.63" r="2.9"/>
<circle cx="341.76" cy="475.81" r="2.9"/>
<circle cx="342.14" cy="516.83" r="2.9"/>
<circle cx="339.14" cy="510.86" r="2.9"/>
<circle cx="348.24" cy="513.84" r="2.9"/>
<circle cx="339.6" cy="500.64" r="2.9"/>
<circle cx="345.88" cy="499.25" r="2.9"/>
<circle cx="338.91" cy="494.01" r="2.9"/>
<circle cx="334.92" cy="518.22" r="2.9"/>
<circle cx="335.07" cy="505.56" r="2.9"/>
<circle cx="342.46" cy="481.77" r="2.9"/>
<circle cx="350.21" cy="503.41" r="2.9"/>
<circle cx="344.64" cy="491.98" r="2.9"/>
<circle cx="343.77" cy="471.03" r="2.9"/>
<circle cx="333.2" cy="511.23" r="2.9"/>
<circle cx="340.79" cy="506.74" r="2.9"/>
<circle cx="343.15" cy="512.03" r="2.9"/>
<circle cx="342.81" cy="495.72" r="2.9"/>
<circle cx="345.44" cy="503.33" r="2.9"/>
<circle cx="349.76" cy="508.64" r="2.9"/>
<circle cx="336.44" cy="514.13" r="2.9"/>
<circle cx="335.88" cy="501.36" r="2.9"/>
<circle cx="345.52" cy="518.13" r="2.9"/>
<circle cx="342.65" cy="484.98" r="2.9"/>
<circle cx="338.33" cy="517.46" r="2.9"/>
<circle cx="347.05" cy="510.31" r="2.9"/>
<circle cx="339.56" cy="514.58" r="2.9"/>
<circle cx="348.98" cy="516.71" r="2.9"/>
<circle cx="340.21" cy="497.01" r="2.9"/>
<circle cx="343.59" cy="478.57" r="2.9"/>
<circle cx="341.07" cy="491.49" r="2.9"/>
<circle cx="342.92" cy="500.03" r="2.9"/>
<circle cx="341.9" cy="503.84" r="2.9"/>
<circle cx="347.81" cy="501.61" r="2.9"/>
<circle cx="348.3" cy="505.86" r="2.9"/>
<circle cx="340.88" cy="472.38" r="2.9"/>
<circle cx="342.14" cy="509.5" r="2.9"/>
<circle cx="349.42" cy="511.4" r="2.9"/>
<circle cx="340.85" cy="478.54" r="2.9"/>
<circle cx="333.91" cy="515.26" r="2.9"/>
<circle cx="337.59" cy="508.41" r="2.9"/>
<circle cx="337.77" cy="502.77" r="2.9"/>
<circle cx="336.29" cy="511.14" r="2.9"/>
<circle cx="337.98" cy="505.53" r="2.9"/>
<circle cx="338.43" cy="498.56" r="2.9"/>
<circle cx="342.35" cy="438.16" r="2.9"/>
<circle cx="342.05" cy="442.92" r="2.9"/>
<circle cx="342.35" cy="447.08" r="2.9"/>
<circle cx="342.05" cy="454.81" r="2.9"/>
<circle cx="342.05" cy="462.54" r="2.9"/>
<circle cx="342.05" cy="467.89" r="2.9"/>
</g>
<g fill="none" stroke="#000" stroke-width="1.45" stroke-opacity="0.55">
<circle cx="370.42" cy="502.27" r="2.9"/>
<circle cx="375.8" cy="501.09" r="2.9"/>
<circle cx="380.48" cy="501.8" r="2.9"/>
<circle cx="375.1" cy="507.42" r="2.9"/>
<circle cx="368.78" cy="515.14" r="2.9"/>
<circle cx="376.5" cy="512.57" r="2.9"/>
<circle cx="372.29" cy="521" r="2.9"/>
<circle cx="378.85" cy="522.17" r="2.9"/>
<circle cx="366.44" cy="537.39" r="2.9"/>
<circle cx="372.29" cy="535.04" r="2.9"/>
<circle cx="378.14" cy="536.92" r="2.9"/>
<circle cx="382.83" cy="535.04" r="2.9"/>
<circle cx="369.95" cy="542.07" r="2.9"/>
<circle cx="375.8" cy="540.9" r="2.9"/>
<circle cx="381.65" cy="540.2" r="2.9"/>
<circle cx="371.12" cy="546.75" r="2.9"/>
<circle cx="380.48" cy="545.58" r="2.9"/>
</g>
<g fill="none" stroke="#ee3124" stroke-width="1.45" stroke-opacity="1">
<circle cx="415.62" cy="513.77" r="2.9"/>
<circle cx="405.5" cy="530.82" r="2.9"/>
<circle cx="408.87" cy="492.81" r="2.9"/>
<circle cx="410.51" cy="473.29" r="2.9"/>
<circle cx="404.98" cy="508.71" r="2.9"/>
<circle cx="404.46" cy="524.82" r="2.9"/>
<circle cx="407.02" cy="500.43" r="2.9"/>
<circle cx="407.76" cy="540.61" r="2.9"/>
<circle cx="415.24" cy="496.25" r="2.9"/>
<circle cx="403.76" cy="517.58" r="2.9"/>
<circle cx="411.59" cy="518.8" r="2.9"/>
<circle cx="413.6" cy="538.47" r="2.9"/>
<circle cx="410.94" cy="483.11" r="2.9"/>
<circle cx="410.94" cy="525.42" r="2.9"/>
<circle cx="416.33" cy="522.61" r="2.9"/>
<circle cx="417.08" cy="507.78" r="2.9"/>
<circle cx="410.98" cy="508.13" r="2.9"/>
<circle cx="412.2" cy="533.29" r="2.9"/>
<circle cx="406.23" cy="487.16" r="2.9"/>
<circle cx="414.4" cy="502.27" r="2.9"/>
<circle cx="407.57" cy="512.8" r="2.9"/>
<circle cx="411.39" cy="498.66" r="2.9"/>
<circle cx="411.86" cy="488.8" r="2.9"/>
<circle cx="402.76" cy="512.77" r="2.9"/>
<circle cx="412.04" cy="543.74" r="2.9"/>
<circle cx="417.49" cy="517.97" r="2.9"/>
<circle cx="405.29" cy="495.68" r="2.9"/>
<circle cx="411.13" cy="478.17" r="2.9"/>
<circle cx="406.75" cy="535.55" r="2.9"/>
<circle cx="407.99" cy="522.84" r="2.9"/>
<circle cx="411.32" cy="514.88" r="2.9"/>
<circle cx="412.91" cy="493.09" r="2.9"/>
<circle cx="407.51" cy="476.77" r="2.9"/>
<circle cx="406.66" cy="504.62" r="2.9"/>
<circle cx="407.84" cy="517.98" r="2.9"/>
<circle cx="413.69" cy="528.37" r="2.9"/>
<circle cx="409.89" cy="528.98" r="2.9"/>
<circle cx="410.12" cy="502.91" r="2.9"/>
<circle cx="408.95" cy="480.64" r="2.9"/>
<circle cx="412.52" cy="511.47" r="2.9"/>
<circle cx="411.07" cy="540.7" r="2.9"/>
<circle cx="413.63" cy="505.63" r="2.9"/>
<circle cx="404.74" cy="492.26" r="2.9"/>
<circle cx="403.03" cy="521.62" r="2.9"/>
<circle cx="408.28" cy="532.35" r="2.9"/>
<circle cx="405.74" cy="520.47" r="2.9"/>
<circle cx="405.49" cy="527.62" r="2.9"/>
<circle cx="413.07" cy="521.31" r="2.9"/>
<circle cx="408.4" cy="496.9" r="2.9"/>
<circle cx="408.19" cy="470.37" r="2.9"/>
<circle cx="407.51" cy="483.1" r="2.9"/>
<circle cx="410.17" cy="535.25" r="2.9"/>
<circle cx="407.68" cy="489.93" r="2.9"/>
<circle cx="414.8" cy="490.76" r="2.9"/>
<circle cx="412.18" cy="471.01" r="2.9"/>
<circle cx="408.44" cy="509.94" r="2.9"/>
<circle cx="409.9" cy="543.82" r="2.9"/>
<circle cx="408.9" cy="469.37" r="2.9"/>
<circle cx="411.9" cy="472.05" r="2.9"/>
</g>
<path d="M307.65 492.27V525.86M301.45 492.27H313.85M301.45 525.86H313.85" stroke="#000" stroke-width="2" fill="none"/>
<rect x="297.45" y="510.34" width="20.4" height="44.36" fill="none" stroke="#000" stroke-width="2.5"/>
<path d="M342.05 471.46V517.54M335.85 471.46H348.25M335.85 517.54H348.25" stroke="#000" stroke-width="2" fill="none"/>
<rect x="331.95" y="496.49" width="20.2" height="58.21" fill="none" stroke="#000" stroke-width="2.5"/>
<path d="M375.45 510.11V541.02M369.25 510.11H381.65M369.25 541.02H381.65" stroke="#3a2fe0" stroke-width="2" fill="none"/>
<rect x="365.25" y="527.11" width="20.4" height="27.59" fill="none" stroke="#3a2fe0" stroke-width="2.5"/>
<path d="M409.9 487.51V528.24M403.7 487.51H416.1M403.7 528.24H416.1" stroke="#3a2fe0" stroke-width="2" fill="none"/>
<rect x="399.85" y="509.57" width="20.1" height="45.13" fill="none" stroke="#3a2fe0" stroke-width="2.5"/>
<text x="307.65" y="552.6" font-size="12.5" text-anchor="middle">33</text>
<text x="342.05" y="552.6" font-size="12.5" text-anchor="middle">16</text>
<path d="M284.3 405.2V555.7" stroke="#000" stroke-width="2"/>
<path d="M283.3 554.7H433.5" stroke="#000" stroke-width="2"/>
<path d="M276 554.7H284.3" stroke="#000" stroke-width="1.7"/>
<text x="272.8" y="559.9" font-size="15" text-anchor="end">0.00</text>
<path d="M276 524.97H284.3" stroke="#000" stroke-width="1.7"/>
<text x="272.8" y="530.17" font-size="15" text-anchor="end">0.05</text>
<path d="M276 495.24H284.3" stroke="#000" stroke-width="1.7"/>
<text x="272.8" y="500.44" font-size="15" text-anchor="end">0.10</text>
<path d="M276 465.51H284.3" stroke="#000" stroke-width="1.7"/>
<text x="272.8" y="470.71" font-size="15" text-anchor="end">0.15</text>
<path d="M276 435.78H284.3" stroke="#000" stroke-width="1.7"/>
<text x="272.8" y="440.98" font-size="15" text-anchor="end">0.20</text>
<path d="M276 406.05H284.3" stroke="#000" stroke-width="1.7"/>
<text x="272.8" y="411.25" font-size="15" text-anchor="end">0.25</text>
<path d="M306.4 425.9V422.7H341V425.9" stroke="#000" stroke-width="1.3" fill="none"/>
<text x="323.7" y="420.35" font-size="11" text-anchor="middle">0.0074</text>
<path d="M375.3 438.9V435.7H409.8V438.9" stroke="#000" stroke-width="1.3" fill="none"/>
<text x="392.55" y="433" font-size="11" text-anchor="middle">0.0034</text>
<text transform="translate(234.6 480.38) rotate(-90)" font-size="15.85" text-anchor="middle">Fractional shortening</text>
<text x="326" y="572.1" font-size="16.3"><tspan font-style="italic">Cmya5</tspan><tspan font-style="italic" font-size="10.2" dy="-5">KO</tspan></text>
<text x="366.6" y="496.9" font-size="12.5" text-anchor="middle">46</text>
<text x="398.8" y="476.6" font-size="12.5" text-anchor="middle">59</text>
<rect x="548.2" y="485.68" width="21.1" height="69.02" fill="#d4d4d4"/>
<rect x="582.2" y="483.3" width="20.7" height="71.4" fill="#d4d4d4"/>
<rect x="617.1" y="514.84" width="21.1" height="39.87" fill="#d3d6f9"/>
<rect x="651" y="501.15" width="20.8" height="53.55" fill="#d3d6f9"/>
<g fill="none" stroke="#000" stroke-width="1.45" stroke-opacity="0.55">
<circle cx="552.73" cy="502.2" r="2.9"/>
<circle cx="558.98" cy="454.6" r="2.9"/>
<circle cx="559.94" cy="477.1" r="2.9"/>
<circle cx="557.04" cy="492.59" r="2.9"/>
<circle cx="558.67" cy="519.94" r="2.9"/>
<circle cx="566.27" cy="492.01" r="2.9"/>
<circle cx="565.46" cy="473.48" r="2.9"/>
<circle cx="558.3" cy="484.02" r="2.9"/>
<circle cx="559.08" cy="469.2" r="2.9"/>
<circle cx="560.29" cy="503.74" r="2.9"/>
<circle cx="559.28" cy="443.27" r="2.9"/>
<circle cx="552.08" cy="462.25" r="2.9"/>
<circle cx="549.95" cy="495.54" r="2.9"/>
<circle cx="553.8" cy="478.23" r="2.9"/>
<circle cx="559.75" cy="460.67" r="2.9"/>
<circle cx="559.57" cy="512.24" r="2.9"/>
<circle cx="565.44" cy="508.2" r="2.9"/>
<circle cx="564.99" cy="499.78" r="2.9"/>
<circle cx="555.06" cy="507.05" r="2.9"/>
<circle cx="553.12" cy="467.67" r="2.9"/>
<circle cx="561.19" cy="489.11" r="2.9"/>
<circle cx="558.65" cy="449.77" r="2.9"/>
<circle cx="564.19" cy="467.77" r="2.9"/>
<circle cx="551.91" cy="473.49" r="2.9"/>
<circle cx="565.21" cy="463.36" r="2.9"/>
<circle cx="562.1" cy="496.33" r="2.9"/>
<circle cx="556.1" cy="498.65" r="2.9"/>
<circle cx="567.06" cy="503.19" r="2.9"/>
<circle cx="561.04" cy="508.61" r="2.9"/>
<circle cx="564.33" cy="478.69" r="2.9"/>
<circle cx="557.41" cy="464.43" r="2.9"/>
<circle cx="558.92" cy="472.77" r="2.9"/>
<circle cx="550.66" cy="505.57" r="2.9"/>
<circle cx="557.99" cy="487.41" r="2.9"/>
<circle cx="551.05" cy="509.68" r="2.9"/>
<circle cx="557.12" cy="515.54" r="2.9"/>
<circle cx="560.62" cy="516.09" r="2.9"/>
<circle cx="556.58" cy="475.34" r="2.9"/>
<circle cx="561.03" cy="465.31" r="2.9"/>
<circle cx="557.35" cy="501.99" r="2.9"/>
<circle cx="557.14" cy="479.24" r="2.9"/>
<circle cx="553.97" cy="495.49" r="2.9"/>
<circle cx="557.1" cy="457.63" r="2.9"/>
<circle cx="562" cy="485.6" r="2.9"/>
<circle cx="551.38" cy="492.27" r="2.9"/>
<circle cx="560.48" cy="446.49" r="2.9"/>
<circle cx="561.39" cy="492.8" r="2.9"/>
<circle cx="555.7" cy="471.37" r="2.9"/>
<circle cx="560.76" cy="480.86" r="2.9"/>
<circle cx="562.53" cy="471.69" r="2.9"/>
<circle cx="554.33" cy="490.84" r="2.9"/>
<circle cx="556.13" cy="461.39" r="2.9"/>
<circle cx="555.6" cy="485.09" r="2.9"/>
<circle cx="565.5" cy="496.37" r="2.9"/>
<circle cx="559.05" cy="496.97" r="2.9"/>
<circle cx="561.65" cy="501.16" r="2.9"/>
<circle cx="558.43" cy="506.65" r="2.9"/>
<circle cx="562.41" cy="475.84" r="2.9"/>
<circle cx="556.81" cy="447.64" r="2.9"/>
<circle cx="557.75" cy="433.5" r="2.9"/>
<circle cx="558.75" cy="522.27" r="2.9"/>
</g>
<g fill="none" stroke="#ee3124" stroke-width="1.45" stroke-opacity="1">
<circle cx="592.86" cy="430.91" r="2.9"/>
<circle cx="592.86" cy="443.04" r="2.9"/>
<circle cx="592.86" cy="455.16" r="2.9"/>
<circle cx="593.1" cy="463.16" r="2.9"/>
<circle cx="589.71" cy="470.92" r="2.9"/>
<circle cx="595.77" cy="469.71" r="2.9"/>
<circle cx="592.13" cy="478.2" r="2.9"/>
<circle cx="596.26" cy="476.98" r="2.9"/>
<circle cx="590.92" cy="484.26" r="2.9"/>
<circle cx="595.29" cy="484.99" r="2.9"/>
<circle cx="586.07" cy="496.38" r="2.9"/>
<circle cx="589.71" cy="495.65" r="2.9"/>
<circle cx="594.56" cy="496.38" r="2.9"/>
<circle cx="599.41" cy="496.38" r="2.9"/>
<circle cx="602.56" cy="495.65" r="2.9"/>
<circle cx="586.07" cy="501.23" r="2.9"/>
<circle cx="592.13" cy="501.23" r="2.9"/>
<circle cx="598.2" cy="501.23" r="2.9"/>
<circle cx="603.53" cy="501.23" r="2.9"/>
<circle cx="588.5" cy="491.53" r="2.9"/>
<circle cx="596.98" cy="491.53" r="2.9"/>
</g>
<g fill="none" stroke="#000" stroke-width="1.45" stroke-opacity="0.55">
<circle cx="627.29" cy="474.56" r="2.9"/>
<circle cx="631.66" cy="484.26" r="2.9"/>
<circle cx="623.66" cy="491.53" r="2.9"/>
<circle cx="633.36" cy="490.32" r="2.9"/>
<circle cx="618.81" cy="503.66" r="2.9"/>
<circle cx="626.08" cy="504.87" r="2.9"/>
<circle cx="635.78" cy="501.23" r="2.9"/>
<circle cx="621.23" cy="510.93" r="2.9"/>
<circle cx="630.93" cy="512.14" r="2.9"/>
<circle cx="618.81" cy="523.06" r="2.9"/>
<circle cx="624.87" cy="524.27" r="2.9"/>
<circle cx="634.57" cy="523.06" r="2.9"/>
<circle cx="622.44" cy="530.33" r="2.9"/>
<circle cx="629.72" cy="529.12" r="2.9"/>
<circle cx="636.51" cy="531.54" r="2.9"/>
<circle cx="618.81" cy="538.82" r="2.9"/>
<circle cx="624.87" cy="536.39" r="2.9"/>
<circle cx="632.14" cy="537.6" r="2.9"/>
<circle cx="636.99" cy="539.3" r="2.9"/>
<circle cx="628.51" cy="518.21" r="2.9"/>
</g>
<g fill="none" stroke="#ee3124" stroke-width="1.45" stroke-opacity="1">
<circle cx="661.84" cy="476.28" r="2.9"/>
<circle cx="659.39" cy="500.62" r="2.9"/>
<circle cx="667.18" cy="487.02" r="2.9"/>
<circle cx="660.42" cy="513.16" r="2.9"/>
<circle cx="653.83" cy="512.9" r="2.9"/>
<circle cx="668.99" cy="520.21" r="2.9"/>
<circle cx="657.4" cy="527.02" r="2.9"/>
<circle cx="656.19" cy="484.62" r="2.9"/>
<circle cx="660.08" cy="493.75" r="2.9"/>
<circle cx="661.16" cy="520.41" r="2.9"/>
<circle cx="666.76" cy="496.45" r="2.9"/>
<circle cx="666.2" cy="509.98" r="2.9"/>
<circle cx="653.49" cy="496.79" r="2.9"/>
<circle cx="669.09" cy="503.12" r="2.9"/>
<circle cx="668.43" cy="527.55" r="2.9"/>
<circle cx="654.98" cy="521.62" r="2.9"/>
<circle cx="658.08" cy="506.63" r="2.9"/>
<circle cx="665.3" cy="481.32" r="2.9"/>
<circle cx="666.09" cy="491.64" r="2.9"/>
<circle cx="663.32" cy="503.96" r="2.9"/>
<circle cx="664.67" cy="524.21" r="2.9"/>
<circle cx="657.85" cy="489.25" r="2.9"/>
<circle cx="657.34" cy="479.65" r="2.9"/>
<circle cx="658.63" cy="472.73" r="2.9"/>
<circle cx="667.32" cy="514.6" r="2.9"/>
<circle cx="664.49" cy="472.02" r="2.9"/>
<circle cx="654.59" cy="502.24" r="2.9"/>
<circle cx="660.62" cy="485.66" r="2.9"/>
<circle cx="665.06" cy="519.83" r="2.9"/>
<circle cx="660.99" cy="480.66" r="2.9"/>
<circle cx="662.42" cy="516.24" r="2.9"/>
<circle cx="653.62" cy="493.29" r="2.9"/>
<circle cx="655.28" cy="509.7" r="2.9"/>
<circle cx="668.6" cy="499.32" r="2.9"/>
<circle cx="660.8" cy="454.26" r="2.9"/>
<circle cx="660.8" cy="463.96" r="2.9"/>
</g>
<path d="M558.75 462.48V507.1M552.55 462.48H564.95M552.55 507.1H564.95" stroke="#000" stroke-width="2" fill="none"/>
<rect x="548.55" y="486.93" width="20.4" height="67.77" fill="none" stroke="#000" stroke-width="2.5"/>
<path d="M592.55 461.29V504.13M586.35 461.29H598.75M586.35 504.13H598.75" stroke="#000" stroke-width="2" fill="none"/>
<rect x="582.55" y="484.55" width="20" height="70.15" fill="none" stroke="#000" stroke-width="2.5"/>
<path d="M627.65 494.01V532.39M621.45 494.01H633.85M621.45 532.39H633.85" stroke="#3a2fe0" stroke-width="2" fill="none"/>
<rect x="617.45" y="516.09" width="20.4" height="38.62" fill="none" stroke="#3a2fe0" stroke-width="2.5"/>
<path d="M661.4 483.3V517.51M655.2 483.3H667.6M655.2 517.51H667.6" stroke="#3a2fe0" stroke-width="2" fill="none"/>
<rect x="651.35" y="502.4" width="20.1" height="52.3" fill="none" stroke="#3a2fe0" stroke-width="2.5"/>
<text x="558.75" y="552.6" font-size="12.5" text-anchor="middle">61</text>
<text x="592.55" y="552.6" font-size="12.5" text-anchor="middle">22</text>
<text x="627.65" y="552.6" font-size="12.5" text-anchor="middle">20</text>
<text x="661.4" y="552.6" font-size="12.5" text-anchor="middle">38</text>
<path d="M535.8 405.1V555.7" stroke="#000" stroke-width="2"/>
<path d="M534.8 554.7H683.8" stroke="#000" stroke-width="2"/>
<path d="M527.1 554.7H535.8" stroke="#000" stroke-width="1.7"/>
<text x="523.9" y="559.9" font-size="15" text-anchor="end">0.00</text>
<path d="M527.1 524.95H535.8" stroke="#000" stroke-width="1.7"/>
<text x="523.9" y="530.15" font-size="15" text-anchor="end">0.05</text>
<path d="M527.1 495.2H535.8" stroke="#000" stroke-width="1.7"/>
<text x="523.9" y="500.4" font-size="15" text-anchor="end">0.10</text>
<path d="M527.1 465.45H535.8" stroke="#000" stroke-width="1.7"/>
<text x="523.9" y="470.65" font-size="15" text-anchor="end">0.15</text>
<path d="M527.1 435.7H535.8" stroke="#000" stroke-width="1.7"/>
<text x="523.9" y="440.9" font-size="15" text-anchor="end">0.20</text>
<path d="M527.1 405.95H535.8" stroke="#000" stroke-width="1.7"/>
<text x="523.9" y="411.15" font-size="15" text-anchor="end">0.25</text>
<path d="M557.6 419.7V416.5H592.8V419.7" stroke="#000" stroke-width="1.3" fill="none"/>
<text x="575.2" y="413.9" font-size="11" text-anchor="middle">1.0</text>
<path d="M626.3 438.9V435.7H661.5V438.9" stroke="#000" stroke-width="1.3" fill="none"/>
<text x="643.9" y="432.6" font-size="11" text-anchor="middle">0.020</text>
<text transform="translate(485.2 480.33) rotate(-90)" font-size="15.85" text-anchor="middle">Fractional shortening</text>
<text x="610.5" y="572.4" font-size="16" text-anchor="middle">WT</text>
</svg></body></html>
